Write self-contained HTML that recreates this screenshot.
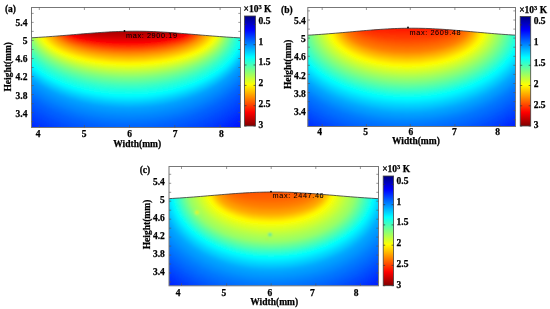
<!DOCTYPE html>
<html><head><meta charset="utf-8"><title>Temperature fields</title>
<style>html,body{margin:0;padding:0;background:#fff;width:550px;height:309px;overflow:hidden}svg{display:block}</style>
</head><body>
<svg width="550" height="309" viewBox="0 0 550 309">
<defs><clipPath id="clipa"><path d="M31.50,127.50 L31.50,37.78 L34.98,37.58 L38.47,37.37 L41.95,37.15 L45.43,36.91 L48.92,36.66 L52.40,36.40 L55.88,36.14 L59.37,35.86 L62.85,35.58 L66.33,35.28 L69.82,34.99 L73.30,34.69 L76.78,34.39 L80.27,34.09 L83.75,33.80 L87.23,33.51 L90.72,33.23 L94.20,32.95 L97.68,32.69 L101.17,32.45 L104.65,32.22 L108.13,32.01 L111.62,31.82 L115.10,31.65 L118.58,31.51 L122.07,31.40 L125.55,31.30 L129.03,31.24 L132.52,31.21 L136.00,31.20 L139.48,31.22 L142.97,31.27 L146.45,31.35 L149.93,31.46 L153.42,31.59 L156.90,31.75 L160.38,31.93 L163.87,32.13 L167.35,32.35 L170.83,32.59 L174.32,32.84 L177.80,33.11 L181.28,33.39 L184.77,33.67 L188.25,33.97 L191.73,34.26 L195.22,34.56 L198.70,34.86 L202.18,35.16 L205.67,35.45 L209.15,35.74 L212.63,36.02 L216.12,36.29 L219.60,36.55 L223.08,36.81 L226.57,37.05 L230.05,37.28 L233.53,37.49 L237.02,37.70 L240.50,37.89 L240.50,127.50 Z"/></clipPath><clipPath id="clipb"><path d="M307.80,126.50 L307.80,35.21 L311.26,35.00 L314.72,34.78 L318.19,34.55 L321.65,34.30 L325.11,34.05 L328.57,33.78 L332.03,33.50 L335.49,33.21 L338.95,32.91 L342.42,32.61 L345.88,32.30 L349.34,31.98 L352.80,31.67 L356.26,31.35 L359.73,31.04 L363.19,30.74 L366.65,30.44 L370.11,30.15 L373.57,29.87 L377.03,29.61 L380.50,29.36 L383.96,29.13 L387.42,28.92 L390.88,28.74 L394.34,28.58 L397.80,28.45 L401.26,28.34 L404.73,28.27 L408.19,28.22 L411.65,28.20 L415.11,28.21 L418.57,28.25 L422.03,28.33 L425.50,28.42 L428.96,28.55 L432.42,28.71 L435.88,28.89 L439.34,29.09 L442.81,29.31 L446.27,29.55 L449.73,29.81 L453.19,30.09 L456.65,30.38 L460.11,30.67 L463.58,30.98 L467.04,31.29 L470.50,31.60 L473.96,31.92 L477.42,32.23 L480.88,32.54 L484.35,32.85 L487.81,33.15 L491.27,33.44 L494.73,33.72 L498.19,33.99 L501.65,34.25 L505.12,34.50 L508.58,34.74 L512.04,34.96 L515.50,35.17 L515.50,126.50 Z"/></clipPath><clipPath id="clipc"><path d="M169.00,285.80 L169.00,198.63 L172.49,198.44 L175.98,198.23 L179.47,198.01 L182.97,197.78 L186.46,197.53 L189.95,197.28 L193.44,197.01 L196.93,196.73 L200.43,196.45 L203.92,196.16 L207.41,195.87 L210.90,195.57 L214.39,195.27 L217.88,194.97 L221.38,194.67 L224.87,194.38 L228.36,194.10 L231.85,193.82 L235.34,193.56 L238.83,193.31 L242.32,193.07 L245.82,192.86 L249.31,192.66 L252.80,192.49 L256.29,192.34 L259.78,192.22 L263.27,192.12 L266.77,192.05 L270.26,192.01 L273.75,192.00 L277.24,192.02 L280.73,192.06 L284.23,192.13 L287.72,192.24 L291.21,192.36 L294.70,192.51 L298.19,192.69 L301.68,192.89 L305.18,193.11 L308.67,193.34 L312.16,193.59 L315.65,193.86 L319.14,194.14 L322.63,194.42 L326.12,194.71 L329.62,195.01 L333.11,195.31 L336.60,195.61 L340.09,195.91 L343.58,196.20 L347.07,196.49 L350.57,196.77 L354.06,197.05 L357.55,197.31 L361.04,197.57 L364.53,197.81 L368.02,198.04 L371.52,198.26 L375.01,198.47 L378.50,198.66 L378.50,285.80 Z"/></clipPath><linearGradient id="jetg" x1="0" y1="0" x2="0" y2="1"><stop offset="0.0000" stop-color="#000080"/><stop offset="0.1250" stop-color="#0000ff"/><stop offset="0.3750" stop-color="#00ffff"/><stop offset="0.6250" stop-color="#ffff00"/><stop offset="0.8750" stop-color="#ff0000"/><stop offset="1.0000" stop-color="#800000"/></linearGradient><filter id="bl" x="-10%" y="-10%" width="120%" height="120%"><feGaussianBlur stdDeviation="1.2"/></filter></defs>
<rect width="550" height="309" fill="#fff"/>
<g clip-path="url(#clipa)"><g filter="url(#bl)"><rect x="26.5" y="2.5" width="219.0" height="130.0" fill="#0000d5"/><ellipse cx="128.5" cy="31.0" rx="213.00" ry="200.00" fill="#0000d5"/><ellipse cx="128.5" cy="31.0" rx="212.11" ry="198.75" fill="#0000d5"/><ellipse cx="128.5" cy="31.0" rx="211.21" ry="197.50" fill="#0000d5"/><ellipse cx="128.5" cy="31.0" rx="210.32" ry="196.25" fill="#0000d5"/><ellipse cx="128.5" cy="31.0" rx="209.43" ry="195.00" fill="#0000d5"/><ellipse cx="128.5" cy="31.0" rx="208.54" ry="193.75" fill="#0000d5"/><ellipse cx="128.5" cy="31.0" rx="207.64" ry="192.50" fill="#0000d5"/><ellipse cx="128.5" cy="31.0" rx="206.75" ry="191.25" fill="#0000d5"/><ellipse cx="128.5" cy="31.0" rx="205.86" ry="190.00" fill="#0000d5"/><ellipse cx="128.5" cy="31.0" rx="204.96" ry="188.75" fill="#0000d5"/><ellipse cx="128.5" cy="31.0" rx="204.07" ry="187.50" fill="#0000d5"/><ellipse cx="128.5" cy="31.0" rx="203.18" ry="186.25" fill="#0000d5"/><ellipse cx="128.5" cy="31.0" rx="202.29" ry="185.00" fill="#0000d5"/><ellipse cx="128.5" cy="31.0" rx="201.39" ry="183.75" fill="#0000d5"/><ellipse cx="128.5" cy="31.0" rx="200.50" ry="182.50" fill="#0000d5"/><ellipse cx="128.5" cy="31.0" rx="199.61" ry="181.25" fill="#0000d5"/><ellipse cx="128.5" cy="31.0" rx="198.71" ry="180.00" fill="#0000d5"/><ellipse cx="128.5" cy="31.0" rx="197.82" ry="178.75" fill="#0000d5"/><ellipse cx="128.5" cy="31.0" rx="196.93" ry="177.50" fill="#0000d5"/><ellipse cx="128.5" cy="31.0" rx="196.04" ry="176.25" fill="#0000d5"/><ellipse cx="128.5" cy="31.0" rx="195.14" ry="175.00" fill="#0000d5"/><ellipse cx="128.5" cy="31.0" rx="194.25" ry="173.75" fill="#0000d5"/><ellipse cx="128.5" cy="31.0" rx="193.36" ry="172.50" fill="#0000d5"/><ellipse cx="128.5" cy="31.0" rx="192.46" ry="171.25" fill="#0000d5"/><ellipse cx="128.5" cy="31.0" rx="191.57" ry="170.00" fill="#0000d5"/><ellipse cx="128.5" cy="31.0" rx="190.68" ry="168.75" fill="#0000d7"/><ellipse cx="128.5" cy="31.0" rx="189.79" ry="167.50" fill="#0000d9"/><ellipse cx="128.5" cy="31.0" rx="188.89" ry="166.25" fill="#0000db"/><ellipse cx="128.5" cy="31.0" rx="188.00" ry="165.00" fill="#0000dd"/><ellipse cx="128.5" cy="31.0" rx="187.11" ry="163.75" fill="#0000e0"/><ellipse cx="128.5" cy="31.0" rx="186.21" ry="162.50" fill="#0000e2"/><ellipse cx="128.5" cy="31.0" rx="185.32" ry="161.25" fill="#0000e4"/><ellipse cx="128.5" cy="31.0" rx="184.43" ry="160.00" fill="#0000e6"/><ellipse cx="128.5" cy="31.0" rx="183.54" ry="158.75" fill="#0000e8"/><ellipse cx="128.5" cy="31.0" rx="182.64" ry="157.50" fill="#0000ea"/><ellipse cx="128.5" cy="31.0" rx="181.75" ry="156.25" fill="#0000ec"/><ellipse cx="128.5" cy="31.0" rx="180.86" ry="155.00" fill="#0000ee"/><ellipse cx="128.5" cy="31.0" rx="179.96" ry="153.75" fill="#0000f0"/><ellipse cx="128.5" cy="31.0" rx="179.07" ry="152.50" fill="#0000f2"/><ellipse cx="128.5" cy="31.0" rx="178.18" ry="151.25" fill="#0000f4"/><ellipse cx="128.5" cy="31.0" rx="177.29" ry="150.00" fill="#0000f7"/><ellipse cx="128.5" cy="31.0" rx="176.39" ry="148.75" fill="#0000f9"/><ellipse cx="128.5" cy="31.0" rx="175.50" ry="147.50" fill="#0000fb"/><ellipse cx="128.5" cy="31.0" rx="174.61" ry="146.25" fill="#0000fd"/><ellipse cx="128.5" cy="31.0" rx="173.71" ry="145.00" fill="#0000ff"/><ellipse cx="128.5" cy="31.0" rx="172.82" ry="143.75" fill="#0002ff"/><ellipse cx="128.5" cy="31.0" rx="171.93" ry="142.50" fill="#0004ff"/><ellipse cx="128.5" cy="31.0" rx="171.04" ry="141.25" fill="#0006ff"/><ellipse cx="128.5" cy="31.0" rx="170.14" ry="140.00" fill="#0008ff"/><ellipse cx="128.5" cy="31.0" rx="169.25" ry="138.75" fill="#000aff"/><ellipse cx="128.5" cy="31.0" rx="168.36" ry="137.50" fill="#000cff"/><ellipse cx="128.5" cy="31.0" rx="167.46" ry="136.25" fill="#000fff"/><ellipse cx="128.5" cy="31.0" rx="166.57" ry="135.00" fill="#0011ff"/><ellipse cx="128.5" cy="31.0" rx="165.68" ry="133.75" fill="#0013ff"/><ellipse cx="128.5" cy="31.0" rx="164.79" ry="132.50" fill="#0015ff"/><ellipse cx="128.5" cy="31.0" rx="163.89" ry="131.25" fill="#0017ff"/><ellipse cx="128.5" cy="31.0" rx="163.00" ry="130.00" fill="#0019ff"/><ellipse cx="128.5" cy="31.0" rx="162.08" ry="128.75" fill="#001bff"/><ellipse cx="128.5" cy="31.0" rx="161.16" ry="127.50" fill="#001dff"/><ellipse cx="128.5" cy="31.0" rx="160.24" ry="126.25" fill="#001fff"/><ellipse cx="128.5" cy="31.0" rx="159.32" ry="125.00" fill="#0021ff"/><ellipse cx="128.5" cy="31.0" rx="158.40" ry="123.75" fill="#0024ff"/><ellipse cx="128.5" cy="31.0" rx="157.49" ry="122.50" fill="#0027ff"/><ellipse cx="128.5" cy="31.0" rx="156.57" ry="121.25" fill="#002aff"/><ellipse cx="128.5" cy="31.0" rx="155.65" ry="120.00" fill="#002dff"/><ellipse cx="128.5" cy="31.0" rx="154.73" ry="118.75" fill="#0030ff"/><ellipse cx="128.5" cy="31.0" rx="153.81" ry="117.50" fill="#0033ff"/><ellipse cx="128.5" cy="31.0" rx="152.89" ry="116.25" fill="#0036ff"/><ellipse cx="128.5" cy="31.0" rx="151.97" ry="115.00" fill="#0039ff"/><ellipse cx="128.5" cy="31.0" rx="151.05" ry="113.75" fill="#003cff"/><ellipse cx="128.5" cy="31.0" rx="150.13" ry="112.50" fill="#003fff"/><ellipse cx="128.5" cy="31.0" rx="149.21" ry="111.25" fill="#0042ff"/><ellipse cx="128.5" cy="31.0" rx="148.29" ry="110.00" fill="#0044ff"/><ellipse cx="128.5" cy="31.0" rx="147.38" ry="108.75" fill="#0047ff"/><ellipse cx="128.5" cy="31.0" rx="146.46" ry="107.50" fill="#004aff"/><ellipse cx="128.5" cy="31.0" rx="145.54" ry="106.25" fill="#004dff"/><ellipse cx="128.5" cy="31.0" rx="144.62" ry="105.00" fill="#0050ff"/><ellipse cx="128.5" cy="31.0" rx="143.70" ry="103.75" fill="#0053ff"/><ellipse cx="128.5" cy="31.0" rx="142.78" ry="102.50" fill="#0056ff"/><ellipse cx="128.5" cy="31.0" rx="141.86" ry="101.25" fill="#0059ff"/><ellipse cx="128.5" cy="31.0" rx="140.94" ry="100.00" fill="#005cff"/><ellipse cx="128.5" cy="31.0" rx="140.02" ry="98.75" fill="#005fff"/><ellipse cx="128.5" cy="31.0" rx="139.10" ry="97.50" fill="#0062ff"/><ellipse cx="128.5" cy="31.0" rx="138.18" ry="96.25" fill="#0065ff"/><ellipse cx="128.5" cy="31.0" rx="137.26" ry="95.00" fill="#0069ff"/><ellipse cx="128.5" cy="31.0" rx="136.33" ry="93.75" fill="#006dff"/><ellipse cx="128.5" cy="31.0" rx="135.40" ry="92.50" fill="#0071ff"/><ellipse cx="128.5" cy="31.0" rx="134.48" ry="91.25" fill="#0075ff"/><ellipse cx="128.5" cy="31.0" rx="133.55" ry="90.00" fill="#0079ff"/><ellipse cx="128.5" cy="31.0" rx="132.62" ry="88.75" fill="#007eff"/><ellipse cx="128.5" cy="31.0" rx="131.69" ry="87.50" fill="#0082ff"/><ellipse cx="128.5" cy="31.0" rx="130.77" ry="86.25" fill="#0086ff"/><ellipse cx="128.5" cy="31.0" rx="129.84" ry="85.00" fill="#008aff"/><ellipse cx="128.5" cy="31.0" rx="128.91" ry="83.75" fill="#008eff"/><ellipse cx="128.5" cy="31.0" rx="127.98" ry="82.50" fill="#0092ff"/><ellipse cx="128.5" cy="31.0" rx="127.06" ry="81.25" fill="#0097ff"/><ellipse cx="128.5" cy="31.0" rx="126.13" ry="80.00" fill="#009bff"/><ellipse cx="128.5" cy="31.0" rx="125.20" ry="78.75" fill="#009fff"/><ellipse cx="128.5" cy="31.0" rx="124.27" ry="77.50" fill="#00a5ff"/><ellipse cx="128.5" cy="31.0" rx="123.35" ry="76.25" fill="#00aeff"/><ellipse cx="128.5" cy="31.0" rx="122.42" ry="75.00" fill="#00b7ff"/><ellipse cx="128.5" cy="31.0" rx="121.49" ry="73.75" fill="#00c0ff"/><ellipse cx="128.5" cy="31.0" rx="120.56" ry="72.50" fill="#00c9ff"/><ellipse cx="128.5" cy="31.0" rx="119.64" ry="71.25" fill="#00d2ff"/><ellipse cx="128.5" cy="31.0" rx="118.71" ry="70.00" fill="#00dbff"/><ellipse cx="128.5" cy="31.0" rx="117.78" ry="68.75" fill="#00e5ff"/><ellipse cx="128.5" cy="31.0" rx="116.85" ry="67.50" fill="#00eeff"/><ellipse cx="128.5" cy="31.0" rx="115.93" ry="66.25" fill="#00f7ff"/><ellipse cx="128.5" cy="31.0" rx="115.00" ry="65.00" fill="#01fffe"/><ellipse cx="128.5" cy="31.0" rx="113.97" ry="63.75" fill="#09fff6"/><ellipse cx="128.5" cy="31.0" rx="112.93" ry="62.50" fill="#11ffee"/><ellipse cx="128.5" cy="31.0" rx="111.90" ry="61.25" fill="#19ffe6"/><ellipse cx="128.5" cy="31.0" rx="110.86" ry="60.00" fill="#20ffdf"/><ellipse cx="128.5" cy="31.0" rx="109.83" ry="58.75" fill="#28ffd7"/><ellipse cx="128.5" cy="31.0" rx="108.79" ry="57.50" fill="#30ffcf"/><ellipse cx="128.5" cy="31.0" rx="107.76" ry="56.25" fill="#38ffc7"/><ellipse cx="128.5" cy="31.0" rx="106.72" ry="55.00" fill="#41ffbe"/><ellipse cx="128.5" cy="31.0" rx="105.69" ry="53.75" fill="#4bffb4"/><ellipse cx="128.5" cy="31.0" rx="104.66" ry="52.50" fill="#55ffaa"/><ellipse cx="128.5" cy="31.0" rx="103.62" ry="51.25" fill="#5fffa0"/><ellipse cx="128.5" cy="31.0" rx="102.59" ry="50.00" fill="#69ff96"/><ellipse cx="128.5" cy="31.0" rx="101.55" ry="48.75" fill="#73ff8c"/><ellipse cx="128.5" cy="31.0" rx="100.52" ry="47.50" fill="#7dff82"/><ellipse cx="128.5" cy="31.0" rx="99.48" ry="46.25" fill="#88ff77"/><ellipse cx="128.5" cy="31.0" rx="98.45" ry="45.00" fill="#94ff6b"/><ellipse cx="128.5" cy="31.0" rx="97.41" ry="43.75" fill="#a0ff5f"/><ellipse cx="128.5" cy="31.0" rx="96.38" ry="42.50" fill="#adff52"/><ellipse cx="128.5" cy="31.0" rx="95.34" ry="41.25" fill="#b9ff46"/><ellipse cx="128.5" cy="31.0" rx="94.31" ry="40.00" fill="#c5ff3a"/><ellipse cx="128.5" cy="31.0" rx="93.28" ry="38.75" fill="#d1ff2e"/><ellipse cx="128.5" cy="31.0" rx="92.24" ry="37.50" fill="#ddff22"/><ellipse cx="128.5" cy="31.0" rx="91.21" ry="36.25" fill="#e9ff16"/><ellipse cx="128.5" cy="31.0" rx="89.77" ry="35.00" fill="#f5ff0a"/><ellipse cx="128.5" cy="31.0" rx="88.24" ry="33.75" fill="#fffc00"/><ellipse cx="128.5" cy="31.0" rx="86.70" ry="32.50" fill="#ffee00"/><ellipse cx="128.5" cy="31.0" rx="85.17" ry="31.25" fill="#ffe100"/><ellipse cx="128.5" cy="31.0" rx="83.64" ry="30.00" fill="#ffd300"/><ellipse cx="128.5" cy="31.0" rx="82.10" ry="28.75" fill="#ffc500"/><ellipse cx="128.5" cy="31.0" rx="80.57" ry="27.50" fill="#ffb800"/><ellipse cx="128.5" cy="31.0" rx="79.03" ry="26.25" fill="#ffaa00"/><ellipse cx="128.5" cy="31.0" rx="77.50" ry="25.00" fill="#ff9c00"/><ellipse cx="128.5" cy="31.0" rx="75.97" ry="23.75" fill="#ff8e00"/><ellipse cx="128.5" cy="31.0" rx="74.43" ry="22.50" fill="#ff8100"/><ellipse cx="128.5" cy="31.0" rx="72.90" ry="21.25" fill="#ff7000"/><ellipse cx="128.5" cy="31.0" rx="71.36" ry="20.00" fill="#ff6000"/><ellipse cx="128.5" cy="31.0" rx="69.83" ry="18.75" fill="#ff5000"/><ellipse cx="128.5" cy="31.0" rx="68.30" ry="17.50" fill="#ff3f00"/><ellipse cx="128.5" cy="31.0" rx="66.76" ry="16.25" fill="#ff2f00"/><ellipse cx="128.5" cy="31.0" rx="65.23" ry="15.00" fill="#ff1f00"/><ellipse cx="128.5" cy="31.0" rx="63.68" ry="13.75" fill="#ff0e00"/><ellipse cx="128.5" cy="31.0" rx="62.07" ry="12.50" fill="#fe0000"/><ellipse cx="128.5" cy="31.0" rx="60.46" ry="11.25" fill="#f30000"/><ellipse cx="128.5" cy="31.0" rx="58.86" ry="10.00" fill="#e70000"/><ellipse cx="128.5" cy="31.0" rx="57.25" ry="8.75" fill="#dc0000"/><ellipse cx="128.5" cy="31.0" rx="55.64" ry="7.50" fill="#d10000"/><ellipse cx="128.5" cy="31.0" rx="54.04" ry="6.25" fill="#c60000"/><ellipse cx="128.5" cy="31.0" rx="52.43" ry="5.00" fill="#be0000"/><ellipse cx="128.5" cy="31.0" rx="50.82" ry="3.75" fill="#b80000"/><ellipse cx="128.5" cy="31.0" rx="49.21" ry="2.50" fill="#b20000"/><ellipse cx="128.5" cy="31.0" rx="47.61" ry="1.25" fill="#ab0000"/></g></g>
<path d="M31.50,37.78 L34.98,37.58 L38.47,37.37 L41.95,37.15 L45.43,36.91 L48.92,36.66 L52.40,36.40 L55.88,36.14 L59.37,35.86 L62.85,35.58 L66.33,35.28 L69.82,34.99 L73.30,34.69 L76.78,34.39 L80.27,34.09 L83.75,33.80 L87.23,33.51 L90.72,33.23 L94.20,32.95 L97.68,32.69 L101.17,32.45 L104.65,32.22 L108.13,32.01 L111.62,31.82 L115.10,31.65 L118.58,31.51 L122.07,31.40 L125.55,31.30 L129.03,31.24 L132.52,31.21 L136.00,31.20 L139.48,31.22 L142.97,31.27 L146.45,31.35 L149.93,31.46 L153.42,31.59 L156.90,31.75 L160.38,31.93 L163.87,32.13 L167.35,32.35 L170.83,32.59 L174.32,32.84 L177.80,33.11 L181.28,33.39 L184.77,33.67 L188.25,33.97 L191.73,34.26 L195.22,34.56 L198.70,34.86 L202.18,35.16 L205.67,35.45 L209.15,35.74 L212.63,36.02 L216.12,36.29 L219.60,36.55 L223.08,36.81 L226.57,37.05 L230.05,37.28 L233.53,37.49 L237.02,37.70 L240.50,37.89" fill="none" stroke="#333" stroke-width="0.8"/>
<rect x="31.5" y="7.5" width="209.0" height="120.0" fill="none" stroke="#777" stroke-width="1"/>
<path d="M39.3,127.5v-2.5M39.3,7.5v2.5M84.4,127.5v-2.5M84.4,7.5v2.5M129.5,127.5v-2.5M129.5,7.5v2.5M174.8,127.5v-2.5M174.8,7.5v2.5M220.1,127.5v-2.5M220.1,7.5v2.5M31.5,13.4h2.2M240.5,13.4h-2.2M31.5,22.4h2.2M240.5,22.4h-2.2M31.5,31.4h2.2M240.5,31.4h-2.2M31.5,40.5h2.2M240.5,40.5h-2.2M31.5,49.5h2.2M240.5,49.5h-2.2M31.5,58.5h2.2M240.5,58.5h-2.2M31.5,67.5h2.2M240.5,67.5h-2.2M31.5,76.6h2.2M240.5,76.6h-2.2M31.5,85.6h2.2M240.5,85.6h-2.2M31.5,94.6h2.2M240.5,94.6h-2.2M31.5,103.7h2.2M240.5,103.7h-2.2M31.5,112.7h2.2M240.5,112.7h-2.2M31.5,121.7h2.2M240.5,121.7h-2.2" stroke="#555" stroke-width="0.6" fill="none"/>
<text x="27.4" y="26.2" text-anchor="end" style="font-family:'Liberation Serif',serif;font-weight:bold;font-size:9.5px;stroke:#000;stroke-width:0.25px">5.4</text>
<text x="27.4" y="44.3" text-anchor="end" style="font-family:'Liberation Serif',serif;font-weight:bold;font-size:9.5px;stroke:#000;stroke-width:0.25px">5</text>
<text x="27.4" y="62.4" text-anchor="end" style="font-family:'Liberation Serif',serif;font-weight:bold;font-size:9.5px;stroke:#000;stroke-width:0.25px">4.6</text>
<text x="27.4" y="80.4" text-anchor="end" style="font-family:'Liberation Serif',serif;font-weight:bold;font-size:9.5px;stroke:#000;stroke-width:0.25px">4.2</text>
<text x="27.4" y="98.5" text-anchor="end" style="font-family:'Liberation Serif',serif;font-weight:bold;font-size:9.5px;stroke:#000;stroke-width:0.25px">3.8</text>
<text x="27.4" y="116.5" text-anchor="end" style="font-family:'Liberation Serif',serif;font-weight:bold;font-size:9.5px;stroke:#000;stroke-width:0.25px">3.4</text>
<text x="38.2" y="137.3" text-anchor="middle" style="font-family:'Liberation Serif',serif;font-weight:bold;font-size:9.5px;stroke:#000;stroke-width:0.25px">4</text>
<text x="84.1" y="137.3" text-anchor="middle" style="font-family:'Liberation Serif',serif;font-weight:bold;font-size:9.5px;stroke:#000;stroke-width:0.25px">5</text>
<text x="129.7" y="137.3" text-anchor="middle" style="font-family:'Liberation Serif',serif;font-weight:bold;font-size:9.5px;stroke:#000;stroke-width:0.25px">6</text>
<text x="175.2" y="137.3" text-anchor="middle" style="font-family:'Liberation Serif',serif;font-weight:bold;font-size:9.5px;stroke:#000;stroke-width:0.25px">7</text>
<text x="221.4" y="137.3" text-anchor="middle" style="font-family:'Liberation Serif',serif;font-weight:bold;font-size:9.5px;stroke:#000;stroke-width:0.25px">8</text>
<text x="137.2" y="146.5" text-anchor="middle" style="font-family:'Liberation Serif',serif;font-weight:bold;font-size:9.5px;stroke:#000;stroke-width:0.25px">Width(mm)</text>
<text transform="translate(8.1,66.8) rotate(-90)" text-anchor="middle" y="3.2" style="font-family:'Liberation Serif',serif;font-weight:bold;font-size:9.5px;stroke:#000;stroke-width:0.25px">Height(mm)</text>
<text x="4.9" y="12.0" style="font-family:'Liberation Serif',serif;font-weight:bold;font-size:9.5px;stroke:#000;stroke-width:0.25px">(a)</text>
<rect x="244.5" y="16.0" width="11.0" height="110.0" fill="url(#jetg)" stroke="#444" stroke-width="0.8"/>
<text x="258.5" y="23.6" style="font-family:'Liberation Serif',serif;font-weight:bold;font-size:9.5px;stroke:#000;stroke-width:0.25px">0.5</text>
<text x="258.5" y="44.5" style="font-family:'Liberation Serif',serif;font-weight:bold;font-size:9.5px;stroke:#000;stroke-width:0.25px">1</text>
<text x="258.5" y="65.3" style="font-family:'Liberation Serif',serif;font-weight:bold;font-size:9.5px;stroke:#000;stroke-width:0.25px">1.5</text>
<text x="258.5" y="86.2" style="font-family:'Liberation Serif',serif;font-weight:bold;font-size:9.5px;stroke:#000;stroke-width:0.25px">2</text>
<text x="258.5" y="107.0" style="font-family:'Liberation Serif',serif;font-weight:bold;font-size:9.5px;stroke:#000;stroke-width:0.25px">2.5</text>
<text x="258.5" y="127.9" style="font-family:'Liberation Serif',serif;font-weight:bold;font-size:9.5px;stroke:#000;stroke-width:0.25px">3</text>
<path d="M244.5,24.4h2M255.5,24.4h-2M244.5,44.7h2M255.5,44.7h-2M244.5,65.0h2M255.5,65.0h-2M244.5,85.4h2M255.5,85.4h-2M244.5,105.7h2M255.5,105.7h-2M244.5,126.0h2M255.5,126.0h-2" stroke="#333" stroke-width="0.7" fill="none"/>
<text x="243.5" y="12.0" style="font-family:'Liberation Serif',serif;font-weight:bold;font-size:9.5px;stroke:#000;stroke-width:0.25px">×10<tspan dy="-3" style="font-size:6.5px">3</tspan><tspan dy="3"> K</tspan></text>
<circle cx="124.5" cy="31.0" r="0.9" fill="#000"/>
<text x="126.0" y="37.9" style="font-family:'Liberation Sans',sans-serif;font-size:7.3px;letter-spacing:0.62px;fill:#000;stroke:#000;stroke-width:0.05px">max: 2900.19</text>
<g clip-path="url(#clipb)"><g filter="url(#bl)"><rect x="302.8" y="2.5" width="217.7" height="129.0" fill="#0000e0"/><ellipse cx="407.0" cy="28.0" rx="216.00" ry="200.00" fill="#0000e0"/><ellipse cx="407.0" cy="28.0" rx="215.11" ry="198.75" fill="#0000e0"/><ellipse cx="407.0" cy="28.0" rx="214.21" ry="197.50" fill="#0000e0"/><ellipse cx="407.0" cy="28.0" rx="213.32" ry="196.25" fill="#0000e0"/><ellipse cx="407.0" cy="28.0" rx="212.43" ry="195.00" fill="#0000e0"/><ellipse cx="407.0" cy="28.0" rx="211.54" ry="193.75" fill="#0000e0"/><ellipse cx="407.0" cy="28.0" rx="210.64" ry="192.50" fill="#0000e0"/><ellipse cx="407.0" cy="28.0" rx="209.75" ry="191.25" fill="#0000e0"/><ellipse cx="407.0" cy="28.0" rx="208.86" ry="190.00" fill="#0000e0"/><ellipse cx="407.0" cy="28.0" rx="207.96" ry="188.75" fill="#0000e0"/><ellipse cx="407.0" cy="28.0" rx="207.07" ry="187.50" fill="#0000e0"/><ellipse cx="407.0" cy="28.0" rx="206.18" ry="186.25" fill="#0000e0"/><ellipse cx="407.0" cy="28.0" rx="205.29" ry="185.00" fill="#0000e0"/><ellipse cx="407.0" cy="28.0" rx="204.39" ry="183.75" fill="#0000e0"/><ellipse cx="407.0" cy="28.0" rx="203.50" ry="182.50" fill="#0000e0"/><ellipse cx="407.0" cy="28.0" rx="202.61" ry="181.25" fill="#0000e0"/><ellipse cx="407.0" cy="28.0" rx="201.71" ry="180.00" fill="#0000e0"/><ellipse cx="407.0" cy="28.0" rx="200.82" ry="178.75" fill="#0000e0"/><ellipse cx="407.0" cy="28.0" rx="199.93" ry="177.50" fill="#0000e0"/><ellipse cx="407.0" cy="28.0" rx="199.04" ry="176.25" fill="#0000e0"/><ellipse cx="407.0" cy="28.0" rx="198.14" ry="175.00" fill="#0000e0"/><ellipse cx="407.0" cy="28.0" rx="197.25" ry="173.75" fill="#0000e0"/><ellipse cx="407.0" cy="28.0" rx="196.36" ry="172.50" fill="#0000e0"/><ellipse cx="407.0" cy="28.0" rx="195.46" ry="171.25" fill="#0000e0"/><ellipse cx="407.0" cy="28.0" rx="194.57" ry="170.00" fill="#0000e0"/><ellipse cx="407.0" cy="28.0" rx="193.68" ry="168.75" fill="#0000e2"/><ellipse cx="407.0" cy="28.0" rx="192.79" ry="167.50" fill="#0000e5"/><ellipse cx="407.0" cy="28.0" rx="191.89" ry="166.25" fill="#0000e7"/><ellipse cx="407.0" cy="28.0" rx="191.00" ry="165.00" fill="#0000e9"/><ellipse cx="407.0" cy="28.0" rx="190.11" ry="163.75" fill="#0000eb"/><ellipse cx="407.0" cy="28.0" rx="189.21" ry="162.50" fill="#0000ed"/><ellipse cx="407.0" cy="28.0" rx="188.32" ry="161.25" fill="#0000ef"/><ellipse cx="407.0" cy="28.0" rx="187.43" ry="160.00" fill="#0000f1"/><ellipse cx="407.0" cy="28.0" rx="186.54" ry="158.75" fill="#0000f3"/><ellipse cx="407.0" cy="28.0" rx="185.64" ry="157.50" fill="#0000f5"/><ellipse cx="407.0" cy="28.0" rx="184.75" ry="156.25" fill="#0000f7"/><ellipse cx="407.0" cy="28.0" rx="183.86" ry="155.00" fill="#0000f9"/><ellipse cx="407.0" cy="28.0" rx="182.96" ry="153.75" fill="#0000fc"/><ellipse cx="407.0" cy="28.0" rx="182.07" ry="152.50" fill="#0000fe"/><ellipse cx="407.0" cy="28.0" rx="181.18" ry="151.25" fill="#0001ff"/><ellipse cx="407.0" cy="28.0" rx="180.29" ry="150.00" fill="#0003ff"/><ellipse cx="407.0" cy="28.0" rx="179.39" ry="148.75" fill="#0005ff"/><ellipse cx="407.0" cy="28.0" rx="178.50" ry="147.50" fill="#0007ff"/><ellipse cx="407.0" cy="28.0" rx="177.61" ry="146.25" fill="#0009ff"/><ellipse cx="407.0" cy="28.0" rx="176.71" ry="145.00" fill="#000bff"/><ellipse cx="407.0" cy="28.0" rx="175.82" ry="143.75" fill="#000dff"/><ellipse cx="407.0" cy="28.0" rx="174.93" ry="142.50" fill="#000fff"/><ellipse cx="407.0" cy="28.0" rx="174.04" ry="141.25" fill="#0011ff"/><ellipse cx="407.0" cy="28.0" rx="173.14" ry="140.00" fill="#0014ff"/><ellipse cx="407.0" cy="28.0" rx="172.25" ry="138.75" fill="#0016ff"/><ellipse cx="407.0" cy="28.0" rx="171.36" ry="137.50" fill="#0018ff"/><ellipse cx="407.0" cy="28.0" rx="170.46" ry="136.25" fill="#001aff"/><ellipse cx="407.0" cy="28.0" rx="169.57" ry="135.00" fill="#001cff"/><ellipse cx="407.0" cy="28.0" rx="168.68" ry="133.75" fill="#001eff"/><ellipse cx="407.0" cy="28.0" rx="167.79" ry="132.50" fill="#0020ff"/><ellipse cx="407.0" cy="28.0" rx="166.89" ry="131.25" fill="#0022ff"/><ellipse cx="407.0" cy="28.0" rx="166.00" ry="130.00" fill="#0024ff"/><ellipse cx="407.0" cy="28.0" rx="164.99" ry="128.75" fill="#0026ff"/><ellipse cx="407.0" cy="28.0" rx="163.98" ry="127.50" fill="#0029ff"/><ellipse cx="407.0" cy="28.0" rx="162.98" ry="126.25" fill="#002bff"/><ellipse cx="407.0" cy="28.0" rx="161.97" ry="125.00" fill="#002dff"/><ellipse cx="407.0" cy="28.0" rx="160.96" ry="123.75" fill="#0030ff"/><ellipse cx="407.0" cy="28.0" rx="159.95" ry="122.50" fill="#0033ff"/><ellipse cx="407.0" cy="28.0" rx="158.94" ry="121.25" fill="#0037ff"/><ellipse cx="407.0" cy="28.0" rx="157.94" ry="120.00" fill="#003aff"/><ellipse cx="407.0" cy="28.0" rx="156.93" ry="118.75" fill="#003eff"/><ellipse cx="407.0" cy="28.0" rx="155.92" ry="117.50" fill="#0041ff"/><ellipse cx="407.0" cy="28.0" rx="154.91" ry="116.25" fill="#0044ff"/><ellipse cx="407.0" cy="28.0" rx="153.90" ry="115.00" fill="#0048ff"/><ellipse cx="407.0" cy="28.0" rx="152.90" ry="113.75" fill="#004bff"/><ellipse cx="407.0" cy="28.0" rx="151.89" ry="112.50" fill="#004eff"/><ellipse cx="407.0" cy="28.0" rx="150.88" ry="111.25" fill="#0052ff"/><ellipse cx="407.0" cy="28.0" rx="149.87" ry="110.00" fill="#0055ff"/><ellipse cx="407.0" cy="28.0" rx="148.86" ry="108.75" fill="#0058ff"/><ellipse cx="407.0" cy="28.0" rx="147.85" ry="107.50" fill="#005cff"/><ellipse cx="407.0" cy="28.0" rx="146.85" ry="106.25" fill="#005fff"/><ellipse cx="407.0" cy="28.0" rx="145.84" ry="105.00" fill="#0063ff"/><ellipse cx="407.0" cy="28.0" rx="144.83" ry="103.75" fill="#0066ff"/><ellipse cx="407.0" cy="28.0" rx="143.82" ry="102.50" fill="#0069ff"/><ellipse cx="407.0" cy="28.0" rx="142.81" ry="101.25" fill="#006dff"/><ellipse cx="407.0" cy="28.0" rx="141.81" ry="100.00" fill="#0070ff"/><ellipse cx="407.0" cy="28.0" rx="140.77" ry="98.75" fill="#0073ff"/><ellipse cx="407.0" cy="28.0" rx="139.60" ry="97.50" fill="#0077ff"/><ellipse cx="407.0" cy="28.0" rx="138.43" ry="96.25" fill="#007bff"/><ellipse cx="407.0" cy="28.0" rx="137.26" ry="95.00" fill="#0080ff"/><ellipse cx="407.0" cy="28.0" rx="136.09" ry="93.75" fill="#0085ff"/><ellipse cx="407.0" cy="28.0" rx="134.92" ry="92.50" fill="#008aff"/><ellipse cx="407.0" cy="28.0" rx="133.75" ry="91.25" fill="#0090ff"/><ellipse cx="407.0" cy="28.0" rx="132.58" ry="90.00" fill="#0095ff"/><ellipse cx="407.0" cy="28.0" rx="131.41" ry="88.75" fill="#009aff"/><ellipse cx="407.0" cy="28.0" rx="130.24" ry="87.50" fill="#009fff"/><ellipse cx="407.0" cy="28.0" rx="129.07" ry="86.25" fill="#00a4ff"/><ellipse cx="407.0" cy="28.0" rx="127.90" ry="85.00" fill="#00a9ff"/><ellipse cx="407.0" cy="28.0" rx="126.73" ry="83.75" fill="#00b1ff"/><ellipse cx="407.0" cy="28.0" rx="125.56" ry="82.50" fill="#00b8ff"/><ellipse cx="407.0" cy="28.0" rx="124.40" ry="81.25" fill="#00c0ff"/><ellipse cx="407.0" cy="28.0" rx="123.23" ry="80.00" fill="#00c7ff"/><ellipse cx="407.0" cy="28.0" rx="122.06" ry="78.75" fill="#00cfff"/><ellipse cx="407.0" cy="28.0" rx="120.89" ry="77.50" fill="#00d6ff"/><ellipse cx="407.0" cy="28.0" rx="119.72" ry="76.25" fill="#00deff"/><ellipse cx="407.0" cy="28.0" rx="118.55" ry="75.00" fill="#00e5ff"/><ellipse cx="407.0" cy="28.0" rx="117.38" ry="73.75" fill="#00edff"/><ellipse cx="407.0" cy="28.0" rx="116.21" ry="72.50" fill="#00f4ff"/><ellipse cx="407.0" cy="28.0" rx="115.04" ry="71.25" fill="#00fcff"/><ellipse cx="407.0" cy="28.0" rx="113.87" ry="70.00" fill="#05fffa"/><ellipse cx="407.0" cy="28.0" rx="112.70" ry="68.75" fill="#0ffff0"/><ellipse cx="407.0" cy="28.0" rx="111.42" ry="67.50" fill="#19ffe6"/><ellipse cx="407.0" cy="28.0" rx="109.98" ry="66.25" fill="#23ffdc"/><ellipse cx="407.0" cy="28.0" rx="108.55" ry="65.00" fill="#2dffd2"/><ellipse cx="407.0" cy="28.0" rx="107.11" ry="63.75" fill="#37ffc8"/><ellipse cx="407.0" cy="28.0" rx="105.67" ry="62.50" fill="#41ffbe"/><ellipse cx="407.0" cy="28.0" rx="104.23" ry="61.25" fill="#4bffb4"/><ellipse cx="407.0" cy="28.0" rx="102.79" ry="60.00" fill="#55ffaa"/><ellipse cx="407.0" cy="28.0" rx="101.35" ry="58.75" fill="#5fffa0"/><ellipse cx="407.0" cy="28.0" rx="99.91" ry="57.50" fill="#69ff96"/><ellipse cx="407.0" cy="28.0" rx="98.47" ry="56.25" fill="#73ff8c"/><ellipse cx="407.0" cy="28.0" rx="97.03" ry="55.00" fill="#7dff82"/><ellipse cx="407.0" cy="28.0" rx="95.59" ry="53.75" fill="#87ff78"/><ellipse cx="407.0" cy="28.0" rx="94.15" ry="52.50" fill="#91ff6e"/><ellipse cx="407.0" cy="28.0" rx="92.71" ry="51.25" fill="#9aff65"/><ellipse cx="407.0" cy="28.0" rx="91.27" ry="50.00" fill="#a4ff5b"/><ellipse cx="407.0" cy="28.0" rx="89.83" ry="48.75" fill="#aeff51"/><ellipse cx="407.0" cy="28.0" rx="88.39" ry="47.50" fill="#b8ff47"/><ellipse cx="407.0" cy="28.0" rx="86.95" ry="46.25" fill="#c2ff3d"/><ellipse cx="407.0" cy="28.0" rx="85.52" ry="45.00" fill="#cbff34"/><ellipse cx="407.0" cy="28.0" rx="84.08" ry="43.75" fill="#d5ff2a"/><ellipse cx="407.0" cy="28.0" rx="82.64" ry="42.50" fill="#dfff20"/><ellipse cx="407.0" cy="28.0" rx="81.20" ry="41.25" fill="#e9ff16"/><ellipse cx="407.0" cy="28.0" rx="79.76" ry="40.00" fill="#f3ff0c"/><ellipse cx="407.0" cy="28.0" rx="78.32" ry="38.75" fill="#fcff03"/><ellipse cx="407.0" cy="28.0" rx="76.88" ry="37.50" fill="#fff700"/><ellipse cx="407.0" cy="28.0" rx="75.44" ry="36.25" fill="#ffec00"/><ellipse cx="407.0" cy="28.0" rx="74.00" ry="35.00" fill="#ffe000"/><ellipse cx="407.0" cy="28.0" rx="72.69" ry="33.75" fill="#ffd500"/><ellipse cx="407.0" cy="28.0" rx="71.38" ry="32.50" fill="#ffca00"/><ellipse cx="407.0" cy="28.0" rx="70.07" ry="31.25" fill="#ffbe00"/><ellipse cx="407.0" cy="28.0" rx="68.76" ry="30.00" fill="#ffb300"/><ellipse cx="407.0" cy="28.0" rx="67.45" ry="28.75" fill="#ffa800"/><ellipse cx="407.0" cy="28.0" rx="66.14" ry="27.50" fill="#ff9d00"/><ellipse cx="407.0" cy="28.0" rx="64.83" ry="26.25" fill="#ff9100"/><ellipse cx="407.0" cy="28.0" rx="63.52" ry="25.00" fill="#ff8600"/><ellipse cx="407.0" cy="28.0" rx="62.21" ry="23.75" fill="#ff7d00"/><ellipse cx="407.0" cy="28.0" rx="60.90" ry="22.50" fill="#ff7700"/><ellipse cx="407.0" cy="28.0" rx="59.60" ry="21.25" fill="#ff7100"/><ellipse cx="407.0" cy="28.0" rx="58.29" ry="20.00" fill="#ff6a00"/><ellipse cx="407.0" cy="28.0" rx="56.98" ry="18.75" fill="#ff6400"/><ellipse cx="407.0" cy="28.0" rx="55.67" ry="17.50" fill="#ff5e00"/><ellipse cx="407.0" cy="28.0" rx="54.36" ry="16.25" fill="#ff5700"/><ellipse cx="407.0" cy="28.0" rx="53.05" ry="15.00" fill="#ff5100"/><ellipse cx="407.0" cy="28.0" rx="51.73" ry="13.75" fill="#ff4b00"/><ellipse cx="407.0" cy="28.0" rx="50.39" ry="12.50" fill="#ff4400"/><ellipse cx="407.0" cy="28.0" rx="49.05" ry="11.25" fill="#ff3e00"/><ellipse cx="407.0" cy="28.0" rx="47.71" ry="10.00" fill="#ff3900"/><ellipse cx="407.0" cy="28.0" rx="46.38" ry="8.75" fill="#ff3400"/><ellipse cx="407.0" cy="28.0" rx="45.04" ry="7.50" fill="#ff3000"/><ellipse cx="407.0" cy="28.0" rx="43.70" ry="6.25" fill="#ff2b00"/><ellipse cx="407.0" cy="28.0" rx="42.36" ry="5.00" fill="#ff2600"/><ellipse cx="407.0" cy="28.0" rx="41.02" ry="3.75" fill="#ff2200"/><ellipse cx="407.0" cy="28.0" rx="39.68" ry="2.50" fill="#ff1d00"/><ellipse cx="407.0" cy="28.0" rx="38.34" ry="1.25" fill="#ff1800"/></g></g>
<path d="M307.80,35.21 L311.26,35.00 L314.72,34.78 L318.19,34.55 L321.65,34.30 L325.11,34.05 L328.57,33.78 L332.03,33.50 L335.49,33.21 L338.95,32.91 L342.42,32.61 L345.88,32.30 L349.34,31.98 L352.80,31.67 L356.26,31.35 L359.73,31.04 L363.19,30.74 L366.65,30.44 L370.11,30.15 L373.57,29.87 L377.03,29.61 L380.50,29.36 L383.96,29.13 L387.42,28.92 L390.88,28.74 L394.34,28.58 L397.80,28.45 L401.26,28.34 L404.73,28.27 L408.19,28.22 L411.65,28.20 L415.11,28.21 L418.57,28.25 L422.03,28.33 L425.50,28.42 L428.96,28.55 L432.42,28.71 L435.88,28.89 L439.34,29.09 L442.81,29.31 L446.27,29.55 L449.73,29.81 L453.19,30.09 L456.65,30.38 L460.11,30.67 L463.58,30.98 L467.04,31.29 L470.50,31.60 L473.96,31.92 L477.42,32.23 L480.88,32.54 L484.35,32.85 L487.81,33.15 L491.27,33.44 L494.73,33.72 L498.19,33.99 L501.65,34.25 L505.12,34.50 L508.58,34.74 L512.04,34.96 L515.50,35.17" fill="none" stroke="#333" stroke-width="0.8"/>
<rect x="307.8" y="7.5" width="207.7" height="119.0" fill="none" stroke="#777" stroke-width="1"/>
<path d="M322.2,126.5v-2.5M322.2,7.5v2.5M366.4,126.5v-2.5M366.4,7.5v2.5M410.3,126.5v-2.5M410.3,7.5v2.5M454.9,126.5v-2.5M454.9,7.5v2.5M499.7,126.5v-2.5M499.7,7.5v2.5M307.8,10.9h2.2M515.5,10.9h-2.2M307.8,20.0h2.2M515.5,20.0h-2.2M307.8,29.1h2.2M515.5,29.1h-2.2M307.8,38.1h2.2M515.5,38.1h-2.2M307.8,47.2h2.2M515.5,47.2h-2.2M307.8,56.3h2.2M515.5,56.3h-2.2M307.8,65.3h2.2M515.5,65.3h-2.2M307.8,74.4h2.2M515.5,74.4h-2.2M307.8,83.5h2.2M515.5,83.5h-2.2M307.8,92.6h2.2M515.5,92.6h-2.2M307.8,101.6h2.2M515.5,101.6h-2.2M307.8,110.7h2.2M515.5,110.7h-2.2M307.8,119.8h2.2M515.5,119.8h-2.2" stroke="#555" stroke-width="0.6" fill="none"/>
<text x="305.8" y="24.1" text-anchor="end" style="font-family:'Liberation Serif',serif;font-weight:bold;font-size:9.5px;stroke:#000;stroke-width:0.25px">5.4</text>
<text x="305.8" y="42.3" text-anchor="end" style="font-family:'Liberation Serif',serif;font-weight:bold;font-size:9.5px;stroke:#000;stroke-width:0.25px">5</text>
<text x="305.8" y="60.4" text-anchor="end" style="font-family:'Liberation Serif',serif;font-weight:bold;font-size:9.5px;stroke:#000;stroke-width:0.25px">4.6</text>
<text x="305.8" y="78.6" text-anchor="end" style="font-family:'Liberation Serif',serif;font-weight:bold;font-size:9.5px;stroke:#000;stroke-width:0.25px">4.2</text>
<text x="305.8" y="96.7" text-anchor="end" style="font-family:'Liberation Serif',serif;font-weight:bold;font-size:9.5px;stroke:#000;stroke-width:0.25px">3.8</text>
<text x="305.8" y="114.9" text-anchor="end" style="font-family:'Liberation Serif',serif;font-weight:bold;font-size:9.5px;stroke:#000;stroke-width:0.25px">3.4</text>
<text x="319.5" y="135.3" text-anchor="middle" style="font-family:'Liberation Serif',serif;font-weight:bold;font-size:9.5px;stroke:#000;stroke-width:0.25px">4</text>
<text x="365.5" y="135.3" text-anchor="middle" style="font-family:'Liberation Serif',serif;font-weight:bold;font-size:9.5px;stroke:#000;stroke-width:0.25px">5</text>
<text x="410.9" y="135.3" text-anchor="middle" style="font-family:'Liberation Serif',serif;font-weight:bold;font-size:9.5px;stroke:#000;stroke-width:0.25px">6</text>
<text x="454.4" y="135.3" text-anchor="middle" style="font-family:'Liberation Serif',serif;font-weight:bold;font-size:9.5px;stroke:#000;stroke-width:0.25px">7</text>
<text x="497.6" y="135.3" text-anchor="middle" style="font-family:'Liberation Serif',serif;font-weight:bold;font-size:9.5px;stroke:#000;stroke-width:0.25px">8</text>
<text x="415.9" y="143.5" text-anchor="middle" style="font-family:'Liberation Serif',serif;font-weight:bold;font-size:9.5px;stroke:#000;stroke-width:0.25px">Width(mm)</text>
<text transform="translate(287.3,64.3) rotate(-90)" text-anchor="middle" y="3.2" style="font-family:'Liberation Serif',serif;font-weight:bold;font-size:9.5px;stroke:#000;stroke-width:0.25px">Height(mm)</text>
<text x="281.0" y="13.0" style="font-family:'Liberation Serif',serif;font-weight:bold;font-size:9.5px;stroke:#000;stroke-width:0.25px">(b)</text>
<rect x="520.2" y="16.5" width="10.5" height="109.5" fill="url(#jetg)" stroke="#444" stroke-width="0.8"/>
<text x="533.7" y="24.1" style="font-family:'Liberation Serif',serif;font-weight:bold;font-size:9.5px;stroke:#000;stroke-width:0.25px">0.5</text>
<text x="533.7" y="45.0" style="font-family:'Liberation Serif',serif;font-weight:bold;font-size:9.5px;stroke:#000;stroke-width:0.25px">1</text>
<text x="533.7" y="65.8" style="font-family:'Liberation Serif',serif;font-weight:bold;font-size:9.5px;stroke:#000;stroke-width:0.25px">1.5</text>
<text x="533.7" y="86.7" style="font-family:'Liberation Serif',serif;font-weight:bold;font-size:9.5px;stroke:#000;stroke-width:0.25px">2</text>
<text x="533.7" y="107.5" style="font-family:'Liberation Serif',serif;font-weight:bold;font-size:9.5px;stroke:#000;stroke-width:0.25px">2.5</text>
<text x="533.7" y="128.3" style="font-family:'Liberation Serif',serif;font-weight:bold;font-size:9.5px;stroke:#000;stroke-width:0.25px">3</text>
<path d="M520.2,24.9h2M530.7,24.9h-2M520.2,45.1h2M530.7,45.1h-2M520.2,65.3h2M530.7,65.3h-2M520.2,85.5h2M530.7,85.5h-2M520.2,105.8h2M530.7,105.8h-2M520.2,126.0h2M530.7,126.0h-2" stroke="#333" stroke-width="0.7" fill="none"/>
<text x="519.2" y="12.5" style="font-family:'Liberation Serif',serif;font-weight:bold;font-size:9.5px;stroke:#000;stroke-width:0.25px">×10<tspan dy="-3" style="font-size:6.5px">3</tspan><tspan dy="3"> K</tspan></text>
<circle cx="408.0" cy="27.5" r="0.9" fill="#000"/>
<text x="409.5" y="34.9" style="font-family:'Liberation Sans',sans-serif;font-size:7.3px;letter-spacing:0.62px;fill:#000;stroke:#000;stroke-width:0.05px">max: 2609.48</text>
<g clip-path="url(#clipc)"><g filter="url(#bl)"><rect x="164.0" y="161.5" width="219.5" height="129.3" fill="#0000dd"/><path d="M60.60,191.60A210.00,200.00 0 0 0 270.60,391.60A214.00,200.00 0 0 0 484.60,191.60A214.00,200.00 0 0 0 270.60,-8.40A210.00,200.00 0 0 0 60.60,191.60Z" fill="#0000dd"/><path d="M61.49,191.60A209.11,198.75 0 0 0 270.60,390.35A213.11,198.75 0 0 0 483.71,191.60A213.11,198.75 0 0 0 270.60,-7.15A209.11,198.75 0 0 0 61.49,191.60Z" fill="#0000dd"/><path d="M62.39,191.60A208.21,197.50 0 0 0 270.60,389.10A212.21,197.50 0 0 0 482.81,191.60A212.21,197.50 0 0 0 270.60,-5.90A208.21,197.50 0 0 0 62.39,191.60Z" fill="#0000dd"/><path d="M63.28,191.60A207.32,196.25 0 0 0 270.60,387.85A211.32,196.25 0 0 0 481.92,191.60A211.32,196.25 0 0 0 270.60,-4.65A207.32,196.25 0 0 0 63.28,191.60Z" fill="#0000dd"/><path d="M64.17,191.60A206.43,195.00 0 0 0 270.60,386.60A210.43,195.00 0 0 0 481.03,191.60A210.43,195.00 0 0 0 270.60,-3.40A206.43,195.00 0 0 0 64.17,191.60Z" fill="#0000dd"/><path d="M65.06,191.60A205.54,193.75 0 0 0 270.60,385.35A209.54,193.75 0 0 0 480.14,191.60A209.54,193.75 0 0 0 270.60,-2.15A205.54,193.75 0 0 0 65.06,191.60Z" fill="#0000dd"/><path d="M65.96,191.60A204.64,192.50 0 0 0 270.60,384.10A208.64,192.50 0 0 0 479.24,191.60A208.64,192.50 0 0 0 270.60,-0.90A204.64,192.50 0 0 0 65.96,191.60Z" fill="#0000dd"/><path d="M66.85,191.60A203.75,191.25 0 0 0 270.60,382.85A207.75,191.25 0 0 0 478.35,191.60A207.75,191.25 0 0 0 270.60,0.35A203.75,191.25 0 0 0 66.85,191.60Z" fill="#0000dd"/><path d="M67.74,191.60A202.86,190.00 0 0 0 270.60,381.60A206.86,190.00 0 0 0 477.46,191.60A206.86,190.00 0 0 0 270.60,1.60A202.86,190.00 0 0 0 67.74,191.60Z" fill="#0000dd"/><path d="M68.64,191.60A201.96,188.75 0 0 0 270.60,380.35A205.96,188.75 0 0 0 476.56,191.60A205.96,188.75 0 0 0 270.60,2.85A201.96,188.75 0 0 0 68.64,191.60Z" fill="#0000dd"/><path d="M69.53,191.60A201.07,187.50 0 0 0 270.60,379.10A205.07,187.50 0 0 0 475.67,191.60A205.07,187.50 0 0 0 270.60,4.10A201.07,187.50 0 0 0 69.53,191.60Z" fill="#0000dd"/><path d="M70.42,191.60A200.18,186.25 0 0 0 270.60,377.85A204.18,186.25 0 0 0 474.78,191.60A204.18,186.25 0 0 0 270.60,5.35A200.18,186.25 0 0 0 70.42,191.60Z" fill="#0000dd"/><path d="M71.31,191.60A199.29,185.00 0 0 0 270.60,376.60A203.29,185.00 0 0 0 473.89,191.60A203.29,185.00 0 0 0 270.60,6.60A199.29,185.00 0 0 0 71.31,191.60Z" fill="#0000dd"/><path d="M72.21,191.60A198.39,183.75 0 0 0 270.60,375.35A202.39,183.75 0 0 0 472.99,191.60A202.39,183.75 0 0 0 270.60,7.85A198.39,183.75 0 0 0 72.21,191.60Z" fill="#0000dd"/><path d="M73.10,191.60A197.50,182.50 0 0 0 270.60,374.10A201.50,182.50 0 0 0 472.10,191.60A201.50,182.50 0 0 0 270.60,9.10A197.50,182.50 0 0 0 73.10,191.60Z" fill="#0000dd"/><path d="M73.99,191.60A196.61,181.25 0 0 0 270.60,372.85A200.61,181.25 0 0 0 471.21,191.60A200.61,181.25 0 0 0 270.60,10.35A196.61,181.25 0 0 0 73.99,191.60Z" fill="#0000dd"/><path d="M74.89,191.60A195.71,180.00 0 0 0 270.60,371.60A199.71,180.00 0 0 0 470.31,191.60A199.71,180.00 0 0 0 270.60,11.60A195.71,180.00 0 0 0 74.89,191.60Z" fill="#0000dd"/><path d="M75.78,191.60A194.82,178.75 0 0 0 270.60,370.35A198.82,178.75 0 0 0 469.42,191.60A198.82,178.75 0 0 0 270.60,12.85A194.82,178.75 0 0 0 75.78,191.60Z" fill="#0000dd"/><path d="M76.67,191.60A193.93,177.50 0 0 0 270.60,369.10A197.93,177.50 0 0 0 468.53,191.60A197.93,177.50 0 0 0 270.60,14.10A193.93,177.50 0 0 0 76.67,191.60Z" fill="#0000dd"/><path d="M77.56,191.60A193.04,176.25 0 0 0 270.60,367.85A197.04,176.25 0 0 0 467.64,191.60A197.04,176.25 0 0 0 270.60,15.35A193.04,176.25 0 0 0 77.56,191.60Z" fill="#0000dd"/><path d="M78.46,191.60A192.14,175.00 0 0 0 270.60,366.60A196.14,175.00 0 0 0 466.74,191.60A196.14,175.00 0 0 0 270.60,16.60A192.14,175.00 0 0 0 78.46,191.60Z" fill="#0000dd"/><path d="M79.35,191.60A191.25,173.75 0 0 0 270.60,365.35A195.25,173.75 0 0 0 465.85,191.60A195.25,173.75 0 0 0 270.60,17.85A191.25,173.75 0 0 0 79.35,191.60Z" fill="#0000dd"/><path d="M80.24,191.60A190.36,172.50 0 0 0 270.60,364.10A194.36,172.50 0 0 0 464.96,191.60A194.36,172.50 0 0 0 270.60,19.10A190.36,172.50 0 0 0 80.24,191.60Z" fill="#0000dd"/><path d="M81.14,191.60A189.46,171.25 0 0 0 270.60,362.85A193.46,171.25 0 0 0 464.06,191.60A193.46,171.25 0 0 0 270.60,20.35A189.46,171.25 0 0 0 81.14,191.60Z" fill="#0000dd"/><path d="M82.03,191.60A188.57,170.00 0 0 0 270.60,361.60A192.57,170.00 0 0 0 463.17,191.60A192.57,170.00 0 0 0 270.60,21.60A188.57,170.00 0 0 0 82.03,191.60Z" fill="#0000dd"/><path d="M82.92,191.60A187.68,168.75 0 0 0 270.60,360.35A191.68,168.75 0 0 0 462.28,191.60A191.68,168.75 0 0 0 270.60,22.85A187.68,168.75 0 0 0 82.92,191.60Z" fill="#0000dd"/><path d="M83.81,191.60A186.79,167.50 0 0 0 270.60,359.10A190.79,167.50 0 0 0 461.39,191.60A190.79,167.50 0 0 0 270.60,24.10A186.79,167.50 0 0 0 83.81,191.60Z" fill="#0000dd"/><path d="M84.71,191.60A185.89,166.25 0 0 0 270.60,357.85A189.89,166.25 0 0 0 460.49,191.60A189.89,166.25 0 0 0 270.60,25.35A185.89,166.25 0 0 0 84.71,191.60Z" fill="#0000de"/><path d="M85.60,191.60A185.00,165.00 0 0 0 270.60,356.60A189.00,165.00 0 0 0 459.60,191.60A189.00,165.00 0 0 0 270.60,26.60A185.00,165.00 0 0 0 85.60,191.60Z" fill="#0000e0"/><path d="M86.49,191.60A184.11,163.75 0 0 0 270.60,355.35A188.11,163.75 0 0 0 458.71,191.60A188.11,163.75 0 0 0 270.60,27.85A184.11,163.75 0 0 0 86.49,191.60Z" fill="#0000e2"/><path d="M87.39,191.60A183.21,162.50 0 0 0 270.60,354.10A187.21,162.50 0 0 0 457.81,191.60A187.21,162.50 0 0 0 270.60,29.10A183.21,162.50 0 0 0 87.39,191.60Z" fill="#0000e4"/><path d="M88.28,191.60A182.32,161.25 0 0 0 270.60,352.85A186.32,161.25 0 0 0 456.92,191.60A186.32,161.25 0 0 0 270.60,30.35A182.32,161.25 0 0 0 88.28,191.60Z" fill="#0000e6"/><path d="M89.17,191.60A181.43,160.00 0 0 0 270.60,351.60A185.43,160.00 0 0 0 456.03,191.60A185.43,160.00 0 0 0 270.60,31.60A181.43,160.00 0 0 0 89.17,191.60Z" fill="#0000e8"/><path d="M90.06,191.60A180.54,158.75 0 0 0 270.60,350.35A184.54,158.75 0 0 0 455.14,191.60A184.54,158.75 0 0 0 270.60,32.85A180.54,158.75 0 0 0 90.06,191.60Z" fill="#0000ea"/><path d="M90.96,191.60A179.64,157.50 0 0 0 270.60,349.10A183.64,157.50 0 0 0 454.24,191.60A183.64,157.50 0 0 0 270.60,34.10A179.64,157.50 0 0 0 90.96,191.60Z" fill="#0000ec"/><path d="M91.85,191.60A178.75,156.25 0 0 0 270.60,347.85A182.75,156.25 0 0 0 453.35,191.60A182.75,156.25 0 0 0 270.60,35.35A178.75,156.25 0 0 0 91.85,191.60Z" fill="#0000ef"/><path d="M92.74,191.60A177.86,155.00 0 0 0 270.60,346.60A181.86,155.00 0 0 0 452.46,191.60A181.86,155.00 0 0 0 270.60,36.60A177.86,155.00 0 0 0 92.74,191.60Z" fill="#0000f1"/><path d="M93.64,191.60A176.96,153.75 0 0 0 270.60,345.35A180.96,153.75 0 0 0 451.56,191.60A180.96,153.75 0 0 0 270.60,37.85A176.96,153.75 0 0 0 93.64,191.60Z" fill="#0000f3"/><path d="M94.53,191.60A176.07,152.50 0 0 0 270.60,344.10A180.07,152.50 0 0 0 450.67,191.60A180.07,152.50 0 0 0 270.60,39.10A176.07,152.50 0 0 0 94.53,191.60Z" fill="#0000f5"/><path d="M95.42,191.60A175.18,151.25 0 0 0 270.60,342.85A179.18,151.25 0 0 0 449.78,191.60A179.18,151.25 0 0 0 270.60,40.35A175.18,151.25 0 0 0 95.42,191.60Z" fill="#0000f7"/><path d="M96.31,191.60A174.29,150.00 0 0 0 270.60,341.60A178.29,150.00 0 0 0 448.89,191.60A178.29,150.00 0 0 0 270.60,41.60A174.29,150.00 0 0 0 96.31,191.60Z" fill="#0000f9"/><path d="M97.21,191.60A173.39,148.75 0 0 0 270.60,340.35A177.39,148.75 0 0 0 447.99,191.60A177.39,148.75 0 0 0 270.60,42.85A173.39,148.75 0 0 0 97.21,191.60Z" fill="#0000fb"/><path d="M98.10,191.60A172.50,147.50 0 0 0 270.60,339.10A176.50,147.50 0 0 0 447.10,191.60A176.50,147.50 0 0 0 270.60,44.10A172.50,147.50 0 0 0 98.10,191.60Z" fill="#0000fd"/><path d="M98.99,191.60A171.61,146.25 0 0 0 270.60,337.85A175.61,146.25 0 0 0 446.21,191.60A175.61,146.25 0 0 0 270.60,45.35A171.61,146.25 0 0 0 98.99,191.60Z" fill="#0000ff"/><path d="M99.89,191.60A170.71,145.00 0 0 0 270.60,336.60A174.71,145.00 0 0 0 445.31,191.60A174.71,145.00 0 0 0 270.60,46.60A170.71,145.00 0 0 0 99.89,191.60Z" fill="#0002ff"/><path d="M100.78,191.60A169.82,143.75 0 0 0 270.60,335.35A173.82,143.75 0 0 0 444.42,191.60A173.82,143.75 0 0 0 270.60,47.85A169.82,143.75 0 0 0 100.78,191.60Z" fill="#0005ff"/><path d="M101.67,191.60A168.93,142.50 0 0 0 270.60,334.10A172.93,142.50 0 0 0 443.53,191.60A172.93,142.50 0 0 0 270.60,49.10A168.93,142.50 0 0 0 101.67,191.60Z" fill="#0007ff"/><path d="M102.56,191.60A168.04,141.25 0 0 0 270.60,332.85A172.04,141.25 0 0 0 442.64,191.60A172.04,141.25 0 0 0 270.60,50.35A168.04,141.25 0 0 0 102.56,191.60Z" fill="#0009ff"/><path d="M103.46,191.60A167.14,140.00 0 0 0 270.60,331.60A171.14,140.00 0 0 0 441.74,191.60A171.14,140.00 0 0 0 270.60,51.60A167.14,140.00 0 0 0 103.46,191.60Z" fill="#000bff"/><path d="M104.35,191.60A166.25,138.75 0 0 0 270.60,330.35A170.25,138.75 0 0 0 440.85,191.60A170.25,138.75 0 0 0 270.60,52.85A166.25,138.75 0 0 0 104.35,191.60Z" fill="#000dff"/><path d="M105.24,191.60A165.36,137.50 0 0 0 270.60,329.10A169.36,137.50 0 0 0 439.96,191.60A169.36,137.50 0 0 0 270.60,54.10A165.36,137.50 0 0 0 105.24,191.60Z" fill="#000fff"/><path d="M106.14,191.60A164.46,136.25 0 0 0 270.60,327.85A168.46,136.25 0 0 0 439.06,191.60A168.46,136.25 0 0 0 270.60,55.35A164.46,136.25 0 0 0 106.14,191.60Z" fill="#0011ff"/><path d="M107.03,191.60A163.57,135.00 0 0 0 270.60,326.60A167.57,135.00 0 0 0 438.17,191.60A167.57,135.00 0 0 0 270.60,56.60A163.57,135.00 0 0 0 107.03,191.60Z" fill="#0013ff"/><path d="M107.92,191.60A162.68,133.75 0 0 0 270.60,325.35A166.68,133.75 0 0 0 437.28,191.60A166.68,133.75 0 0 0 270.60,57.85A162.68,133.75 0 0 0 107.92,191.60Z" fill="#0015ff"/><path d="M108.81,191.60A161.79,132.50 0 0 0 270.60,324.10A165.79,132.50 0 0 0 436.39,191.60A165.79,132.50 0 0 0 270.60,59.10A161.79,132.50 0 0 0 108.81,191.60Z" fill="#0017ff"/><path d="M109.71,191.60A160.89,131.25 0 0 0 270.60,322.85A164.89,131.25 0 0 0 435.49,191.60A164.89,131.25 0 0 0 270.60,60.35A160.89,131.25 0 0 0 109.71,191.60Z" fill="#0019ff"/><path d="M110.60,191.60A160.00,130.00 0 0 0 270.60,321.60A164.00,130.00 0 0 0 434.60,191.60A164.00,130.00 0 0 0 270.60,61.60A160.00,130.00 0 0 0 110.60,191.60Z" fill="#001cff"/><path d="M111.76,191.60A158.84,128.75 0 0 0 270.60,320.35A162.87,128.75 0 0 0 433.47,191.60A162.87,128.75 0 0 0 270.60,62.85A158.84,128.75 0 0 0 111.76,191.60Z" fill="#001eff"/><path d="M112.91,191.60A157.69,127.50 0 0 0 270.60,319.10A161.74,127.50 0 0 0 432.34,191.60A161.74,127.50 0 0 0 270.60,64.10A157.69,127.50 0 0 0 112.91,191.60Z" fill="#0020ff"/><path d="M114.07,191.60A156.53,126.25 0 0 0 270.60,317.85A160.61,126.25 0 0 0 431.21,191.60A160.61,126.25 0 0 0 270.60,65.35A156.53,126.25 0 0 0 114.07,191.60Z" fill="#0022ff"/><path d="M115.23,191.60A155.37,125.00 0 0 0 270.60,316.60A159.49,125.00 0 0 0 430.09,191.60A159.49,125.00 0 0 0 270.60,66.60A155.37,125.00 0 0 0 115.23,191.60Z" fill="#0024ff"/><path d="M116.39,191.60A154.21,123.75 0 0 0 270.60,315.35A158.36,123.75 0 0 0 428.96,191.60A158.36,123.75 0 0 0 270.60,67.85A154.21,123.75 0 0 0 116.39,191.60Z" fill="#0026ff"/><path d="M117.54,191.60A153.06,122.50 0 0 0 270.60,314.10A157.23,122.50 0 0 0 427.83,191.60A157.23,122.50 0 0 0 270.60,69.10A153.06,122.50 0 0 0 117.54,191.60Z" fill="#0028ff"/><path d="M118.70,191.60A151.90,121.25 0 0 0 270.60,312.85A156.10,121.25 0 0 0 426.70,191.60A156.10,121.25 0 0 0 270.60,70.35A151.90,121.25 0 0 0 118.70,191.60Z" fill="#002bff"/><path d="M119.86,191.60A150.74,120.00 0 0 0 270.60,311.60A154.97,120.00 0 0 0 425.57,191.60A154.97,120.00 0 0 0 270.60,71.60A150.74,120.00 0 0 0 119.86,191.60Z" fill="#002fff"/><path d="M121.01,191.60A149.59,118.75 0 0 0 270.60,310.35A153.84,118.75 0 0 0 424.44,191.60A153.84,118.75 0 0 0 270.60,72.85A149.59,118.75 0 0 0 121.01,191.60Z" fill="#0032ff"/><path d="M122.17,191.60A148.43,117.50 0 0 0 270.60,309.10A152.71,117.50 0 0 0 423.31,191.60A152.71,117.50 0 0 0 270.60,74.10A148.43,117.50 0 0 0 122.17,191.60Z" fill="#0036ff"/><path d="M123.33,191.60A147.27,116.25 0 0 0 270.60,307.85A151.59,116.25 0 0 0 422.19,191.60A151.59,116.25 0 0 0 270.60,75.35A147.27,116.25 0 0 0 123.33,191.60Z" fill="#0039ff"/><path d="M124.49,191.60A146.11,115.00 0 0 0 270.60,306.60A150.46,115.00 0 0 0 421.06,191.60A150.46,115.00 0 0 0 270.60,76.60A146.11,115.00 0 0 0 124.49,191.60Z" fill="#003dff"/><path d="M125.64,191.60A144.96,113.75 0 0 0 270.60,305.35A149.33,113.75 0 0 0 419.93,191.60A149.33,113.75 0 0 0 270.60,77.85A144.96,113.75 0 0 0 125.64,191.60Z" fill="#0040ff"/><path d="M126.80,191.60A143.80,112.50 0 0 0 270.60,304.10A148.20,112.50 0 0 0 418.80,191.60A148.20,112.50 0 0 0 270.60,79.10A143.80,112.50 0 0 0 126.80,191.60Z" fill="#0044ff"/><path d="M127.96,191.60A142.64,111.25 0 0 0 270.60,302.85A147.07,111.25 0 0 0 417.67,191.60A147.07,111.25 0 0 0 270.60,80.35A142.64,111.25 0 0 0 127.96,191.60Z" fill="#0047ff"/><path d="M129.11,191.60A141.49,110.00 0 0 0 270.60,301.60A145.94,110.00 0 0 0 416.54,191.60A145.94,110.00 0 0 0 270.60,81.60A141.49,110.00 0 0 0 129.11,191.60Z" fill="#004bff"/><path d="M130.27,191.60A140.33,108.75 0 0 0 270.60,300.35A144.81,108.75 0 0 0 415.41,191.60A144.81,108.75 0 0 0 270.60,82.85A140.33,108.75 0 0 0 130.27,191.60Z" fill="#004eff"/><path d="M131.43,191.60A139.17,107.50 0 0 0 270.60,299.10A143.69,107.50 0 0 0 414.29,191.60A143.69,107.50 0 0 0 270.60,84.10A139.17,107.50 0 0 0 131.43,191.60Z" fill="#0052ff"/><path d="M132.59,191.60A138.01,106.25 0 0 0 270.60,297.85A142.56,106.25 0 0 0 413.16,191.60A142.56,106.25 0 0 0 270.60,85.35A138.01,106.25 0 0 0 132.59,191.60Z" fill="#0055ff"/><path d="M133.74,191.60A136.86,105.00 0 0 0 270.60,296.60A141.43,105.00 0 0 0 412.03,191.60A141.43,105.00 0 0 0 270.60,86.60A136.86,105.00 0 0 0 133.74,191.60Z" fill="#0059ff"/><path d="M134.90,191.60A135.70,103.75 0 0 0 270.60,295.35A140.30,103.75 0 0 0 410.90,191.60A140.30,103.75 0 0 0 270.60,87.85A135.70,103.75 0 0 0 134.90,191.60Z" fill="#005dff"/><path d="M136.06,191.60A134.54,102.50 0 0 0 270.60,294.10A139.17,102.50 0 0 0 409.77,191.60A139.17,102.50 0 0 0 270.60,89.10A134.54,102.50 0 0 0 136.06,191.60Z" fill="#0060ff"/><path d="M137.21,191.60A133.39,101.25 0 0 0 270.60,292.85A138.04,101.25 0 0 0 408.64,191.60A138.04,101.25 0 0 0 270.60,90.35A133.39,101.25 0 0 0 137.21,191.60Z" fill="#0064ff"/><path d="M138.37,191.60A132.23,100.00 0 0 0 270.60,291.60A136.91,100.00 0 0 0 407.51,191.60A136.91,100.00 0 0 0 270.60,91.60A132.23,100.00 0 0 0 138.37,191.60Z" fill="#0067ff"/><path d="M139.53,191.60A131.07,98.75 0 0 0 270.60,290.35A135.79,98.75 0 0 0 406.39,191.60A135.79,98.75 0 0 0 270.60,92.85A131.07,98.75 0 0 0 139.53,191.60Z" fill="#006bff"/><path d="M140.69,191.60A129.91,97.50 0 0 0 270.60,289.10A134.66,97.50 0 0 0 405.26,191.60A134.66,97.50 0 0 0 270.60,94.10A129.91,97.50 0 0 0 140.69,191.60Z" fill="#006eff"/><path d="M141.84,191.60A128.76,96.25 0 0 0 270.60,287.85A133.53,96.25 0 0 0 404.13,191.60A133.53,96.25 0 0 0 270.60,95.35A128.76,96.25 0 0 0 141.84,191.60Z" fill="#0072ff"/><path d="M143.00,191.60A127.60,95.00 0 0 0 270.60,286.60A132.40,95.00 0 0 0 403.00,191.60A132.40,95.00 0 0 0 270.60,96.60A127.60,95.00 0 0 0 143.00,191.60Z" fill="#0075ff"/><path d="M144.32,191.60A126.28,93.75 0 0 0 270.60,285.35A131.08,93.75 0 0 0 401.68,191.60A131.08,93.75 0 0 0 270.60,97.85A126.28,93.75 0 0 0 144.32,191.60Z" fill="#0079ff"/><path d="M145.64,191.60A124.96,92.50 0 0 0 270.60,284.10A129.76,92.50 0 0 0 400.36,191.60A129.76,92.50 0 0 0 270.60,99.10A124.96,92.50 0 0 0 145.64,191.60Z" fill="#007dff"/><path d="M146.96,191.60A123.64,91.25 0 0 0 270.60,282.85A128.44,91.25 0 0 0 399.04,191.60A128.44,91.25 0 0 0 270.60,100.35A123.64,91.25 0 0 0 146.96,191.60Z" fill="#0081ff"/><path d="M148.28,191.60A122.32,90.00 0 0 0 270.60,281.60A127.12,90.00 0 0 0 397.72,191.60A127.12,90.00 0 0 0 270.60,101.60A122.32,90.00 0 0 0 148.28,191.60Z" fill="#0086ff"/><path d="M149.60,191.60A121.00,88.75 0 0 0 270.60,280.35A125.80,88.75 0 0 0 396.40,191.60A125.80,88.75 0 0 0 270.60,102.85A121.00,88.75 0 0 0 149.60,191.60Z" fill="#008aff"/><path d="M150.92,191.60A119.68,87.50 0 0 0 270.60,279.10A124.48,87.50 0 0 0 395.08,191.60A124.48,87.50 0 0 0 270.60,104.10A119.68,87.50 0 0 0 150.92,191.60Z" fill="#008eff"/><path d="M152.24,191.60A118.36,86.25 0 0 0 270.60,277.85A123.16,86.25 0 0 0 393.76,191.60A123.16,86.25 0 0 0 270.60,105.35A118.36,86.25 0 0 0 152.24,191.60Z" fill="#0093ff"/><path d="M153.56,191.60A117.04,85.00 0 0 0 270.60,276.60A121.84,85.00 0 0 0 392.44,191.60A121.84,85.00 0 0 0 270.60,106.60A117.04,85.00 0 0 0 153.56,191.60Z" fill="#0097ff"/><path d="M154.88,191.60A115.72,83.75 0 0 0 270.60,275.35A120.53,83.75 0 0 0 391.12,191.60A120.53,83.75 0 0 0 270.60,107.85A115.72,83.75 0 0 0 154.88,191.60Z" fill="#009bff"/><path d="M156.19,191.60A114.41,82.50 0 0 0 270.60,274.10A119.21,82.50 0 0 0 389.81,191.60A119.21,82.50 0 0 0 270.60,109.10A114.41,82.50 0 0 0 156.19,191.60Z" fill="#009fff"/><path d="M157.51,191.60A113.09,81.25 0 0 0 270.60,272.85A117.89,81.25 0 0 0 388.49,191.60A117.89,81.25 0 0 0 270.60,110.35A113.09,81.25 0 0 0 157.51,191.60Z" fill="#00a4ff"/><path d="M158.83,191.60A111.77,80.00 0 0 0 270.60,271.60A116.57,80.00 0 0 0 387.17,191.60A116.57,80.00 0 0 0 270.60,111.60A111.77,80.00 0 0 0 158.83,191.60Z" fill="#00a8ff"/><path d="M160.15,191.60A110.45,78.75 0 0 0 270.60,270.35A115.25,78.75 0 0 0 385.85,191.60A115.25,78.75 0 0 0 270.60,112.85A110.45,78.75 0 0 0 160.15,191.60Z" fill="#00afff"/><path d="M161.47,191.60A109.13,77.50 0 0 0 270.60,269.10A113.93,77.50 0 0 0 384.53,191.60A113.93,77.50 0 0 0 270.60,114.10A109.13,77.50 0 0 0 161.47,191.60Z" fill="#00b7ff"/><path d="M162.69,191.60A107.91,76.25 0 0 0 270.60,267.85A112.71,76.25 0 0 0 383.31,191.60A112.71,76.25 0 0 0 270.60,115.35A107.91,76.25 0 0 0 162.69,191.60Z" fill="#00c0ff"/><path d="M163.85,191.60A106.75,75.00 0 0 0 270.60,266.60A111.55,75.00 0 0 0 382.15,191.60A111.55,75.00 0 0 0 270.60,116.60A106.75,75.00 0 0 0 163.85,191.60Z" fill="#00c8ff"/><path d="M165.00,191.60A105.60,73.75 0 0 0 270.60,265.35A110.40,73.75 0 0 0 381.00,191.60A110.40,73.75 0 0 0 270.60,117.85A105.60,73.75 0 0 0 165.00,191.60Z" fill="#00d0ff"/><path d="M166.15,191.60A104.45,72.50 0 0 0 270.60,264.10A109.25,72.50 0 0 0 379.85,191.60A109.25,72.50 0 0 0 270.60,119.10A104.45,72.50 0 0 0 166.15,191.60Z" fill="#00d8ff"/><path d="M167.31,191.60A103.29,71.25 0 0 0 270.60,262.85A108.09,71.25 0 0 0 378.69,191.60A108.09,71.25 0 0 0 270.60,120.35A103.29,71.25 0 0 0 167.31,191.60Z" fill="#00e0ff"/><path d="M168.46,191.60A102.14,70.00 0 0 0 270.60,261.60A106.94,70.00 0 0 0 377.54,191.60A106.94,70.00 0 0 0 270.60,121.60A102.14,70.00 0 0 0 168.46,191.60Z" fill="#00e8ff"/><path d="M169.62,191.60A100.98,68.75 0 0 0 270.60,260.35A105.78,68.75 0 0 0 376.38,191.60A105.78,68.75 0 0 0 270.60,122.85A100.98,68.75 0 0 0 169.62,191.60Z" fill="#00f0ff"/><path d="M170.77,191.60A99.83,67.50 0 0 0 270.60,259.10A104.63,67.50 0 0 0 375.23,191.60A104.63,67.50 0 0 0 270.60,124.10A99.83,67.50 0 0 0 170.77,191.60Z" fill="#00f9ff"/><path d="M171.92,191.60A98.68,66.25 0 0 0 270.60,257.85A103.48,66.25 0 0 0 374.08,191.60A103.48,66.25 0 0 0 270.60,125.35A98.68,66.25 0 0 0 171.92,191.60Z" fill="#02fffd"/><path d="M173.08,191.60A97.52,65.00 0 0 0 270.60,256.60A102.32,65.00 0 0 0 372.92,191.60A102.32,65.00 0 0 0 270.60,126.60A97.52,65.00 0 0 0 173.08,191.60Z" fill="#0efff1"/><path d="M174.26,191.60A96.34,63.75 0 0 0 270.60,255.35A101.10,63.75 0 0 0 371.70,191.60A101.10,63.75 0 0 0 270.60,127.85A96.34,63.75 0 0 0 174.26,191.60Z" fill="#1affe5"/><path d="M175.58,191.60A95.02,62.50 0 0 0 270.60,254.10A99.60,62.50 0 0 0 370.20,191.60A99.60,62.50 0 0 0 270.60,129.10A95.02,62.50 0 0 0 175.58,191.60Z" fill="#26ffd9"/><path d="M176.89,191.60A93.71,61.25 0 0 0 270.60,252.85A98.10,61.25 0 0 0 368.70,191.60A98.10,61.25 0 0 0 270.60,130.35A93.71,61.25 0 0 0 176.89,191.60Z" fill="#32ffcd"/><path d="M178.20,191.60A92.40,60.00 0 0 0 270.60,251.60A96.60,60.00 0 0 0 367.20,191.60A96.60,60.00 0 0 0 270.60,131.60A92.40,60.00 0 0 0 178.20,191.60Z" fill="#3effc1"/><path d="M179.51,191.60A91.09,58.75 0 0 0 270.60,250.35A95.10,58.75 0 0 0 365.70,191.60A95.10,58.75 0 0 0 270.60,132.85A91.09,58.75 0 0 0 179.51,191.60Z" fill="#4affb5"/><path d="M180.83,191.60A89.77,57.50 0 0 0 270.60,249.10A93.60,57.50 0 0 0 364.20,191.60A93.60,57.50 0 0 0 270.60,134.10A89.77,57.50 0 0 0 180.83,191.60Z" fill="#56ffa9"/><path d="M182.14,191.60A88.46,56.25 0 0 0 270.60,247.85A92.10,56.25 0 0 0 362.70,191.60A92.10,56.25 0 0 0 270.60,135.35A88.46,56.25 0 0 0 182.14,191.60Z" fill="#62ff9d"/><path d="M183.45,191.60A87.15,55.00 0 0 0 270.60,246.60A90.60,55.00 0 0 0 361.20,191.60A90.60,55.00 0 0 0 270.60,136.60A87.15,55.00 0 0 0 183.45,191.60Z" fill="#6dff92"/><path d="M184.76,191.60A85.84,53.75 0 0 0 270.60,245.35A89.10,53.75 0 0 0 359.70,191.60A89.10,53.75 0 0 0 270.60,137.85A85.84,53.75 0 0 0 184.76,191.60Z" fill="#79ff86"/><path d="M186.08,191.60A84.52,52.50 0 0 0 270.60,244.10A87.60,52.50 0 0 0 358.20,191.60A87.60,52.50 0 0 0 270.60,139.10A84.52,52.50 0 0 0 186.08,191.60Z" fill="#85ff7a"/><path d="M187.39,191.60A83.21,51.25 0 0 0 270.60,242.85A86.10,51.25 0 0 0 356.70,191.60A86.10,51.25 0 0 0 270.60,140.35A83.21,51.25 0 0 0 187.39,191.60Z" fill="#91ff6e"/><path d="M188.70,191.60A81.90,50.00 0 0 0 270.60,241.60A84.60,50.00 0 0 0 355.20,191.60A84.60,50.00 0 0 0 270.60,141.60A81.90,50.00 0 0 0 188.70,191.60Z" fill="#99ff66"/><path d="M190.01,191.60A80.59,48.75 0 0 0 270.60,240.35A83.10,48.75 0 0 0 353.70,191.60A83.10,48.75 0 0 0 270.60,142.85A80.59,48.75 0 0 0 190.01,191.60Z" fill="#9fff60"/><path d="M191.33,191.60A79.28,47.50 0 0 0 270.60,239.10A81.60,47.50 0 0 0 352.20,191.60A81.60,47.50 0 0 0 270.60,144.10A79.28,47.50 0 0 0 191.33,191.60Z" fill="#a6ff59"/><path d="M192.64,191.60A77.96,46.25 0 0 0 270.60,237.85A80.10,46.25 0 0 0 350.70,191.60A80.10,46.25 0 0 0 270.60,145.35A77.96,46.25 0 0 0 192.64,191.60Z" fill="#acff53"/><path d="M193.95,191.60A76.65,45.00 0 0 0 270.60,236.60A78.60,45.00 0 0 0 349.20,191.60A78.60,45.00 0 0 0 270.60,146.60A76.65,45.00 0 0 0 193.95,191.60Z" fill="#b2ff4d"/><path d="M195.26,191.60A75.34,43.75 0 0 0 270.60,235.35A77.10,43.75 0 0 0 347.70,191.60A77.10,43.75 0 0 0 270.60,147.85A75.34,43.75 0 0 0 195.26,191.60Z" fill="#b9ff46"/><path d="M196.58,191.60A74.03,42.50 0 0 0 270.60,234.10A75.60,42.50 0 0 0 346.20,191.60A75.60,42.50 0 0 0 270.60,149.10A74.03,42.50 0 0 0 196.58,191.60Z" fill="#c1ff3e"/><path d="M197.89,191.60A72.71,41.25 0 0 0 270.60,232.85A74.10,41.25 0 0 0 344.70,191.60A74.10,41.25 0 0 0 270.60,150.35A72.71,41.25 0 0 0 197.89,191.60Z" fill="#c8ff37"/><path d="M199.20,191.60A71.40,40.00 0 0 0 270.60,231.60A72.60,40.00 0 0 0 343.20,191.60A72.60,40.00 0 0 0 270.60,151.60A71.40,40.00 0 0 0 199.20,191.60Z" fill="#d0ff2f"/><path d="M200.51,191.60A70.09,38.75 0 0 0 270.60,230.35A71.10,38.75 0 0 0 341.70,191.60A71.10,38.75 0 0 0 270.60,152.85A70.09,38.75 0 0 0 200.51,191.60Z" fill="#d7ff28"/><path d="M201.83,191.60A68.78,37.50 0 0 0 270.60,229.10A69.60,37.50 0 0 0 340.20,191.60A69.60,37.50 0 0 0 270.60,154.10A68.78,37.50 0 0 0 201.83,191.60Z" fill="#deff21"/><path d="M203.14,191.60A67.46,36.25 0 0 0 270.60,227.85A68.10,36.25 0 0 0 338.70,191.60A68.10,36.25 0 0 0 270.60,155.35A67.46,36.25 0 0 0 203.14,191.60Z" fill="#e6ff19"/><path d="M204.45,191.60A66.15,35.00 0 0 0 270.60,226.60A66.60,35.00 0 0 0 337.20,191.60A66.60,35.00 0 0 0 270.60,156.60A66.15,35.00 0 0 0 204.45,191.60Z" fill="#edff12"/><path d="M205.76,191.60A64.84,33.75 0 0 0 270.60,225.35A65.10,33.75 0 0 0 335.70,191.60A65.10,33.75 0 0 0 270.60,157.85A64.84,33.75 0 0 0 205.76,191.60Z" fill="#f5ff0a"/><path d="M207.08,191.60A63.52,32.50 0 0 0 270.60,224.10A63.60,32.50 0 0 0 334.20,191.60A63.60,32.50 0 0 0 270.60,159.10A63.52,32.50 0 0 0 207.08,191.60Z" fill="#fcff03"/><ellipse cx="270.6" cy="191.6" rx="62.25" ry="31.25" fill="#fff700"/><ellipse cx="270.6" cy="191.6" rx="61.00" ry="30.00" fill="#ffeb00"/><ellipse cx="270.6" cy="191.6" rx="59.75" ry="28.75" fill="#ffde00"/><ellipse cx="270.6" cy="191.6" rx="58.50" ry="27.50" fill="#ffd100"/><ellipse cx="270.6" cy="191.6" rx="57.25" ry="26.25" fill="#ffc500"/><ellipse cx="270.6" cy="191.6" rx="56.00" ry="25.00" fill="#ffb800"/><ellipse cx="270.6" cy="191.6" rx="54.75" ry="23.75" fill="#ffad00"/><ellipse cx="270.6" cy="191.6" rx="53.50" ry="22.50" fill="#ffa500"/><ellipse cx="270.6" cy="191.6" rx="52.25" ry="21.25" fill="#ff9e00"/><ellipse cx="270.6" cy="191.6" rx="51.00" ry="20.00" fill="#ff9700"/><ellipse cx="270.6" cy="191.6" rx="49.75" ry="18.75" fill="#ff9000"/><ellipse cx="270.6" cy="191.6" rx="48.50" ry="17.50" fill="#ff8900"/><ellipse cx="270.6" cy="191.6" rx="47.25" ry="16.25" fill="#ff8200"/><ellipse cx="270.6" cy="191.6" rx="46.00" ry="15.00" fill="#ff7d00"/><ellipse cx="270.6" cy="191.6" rx="44.73" ry="13.75" fill="#ff7800"/><ellipse cx="270.6" cy="191.6" rx="43.39" ry="12.50" fill="#ff7400"/><ellipse cx="270.6" cy="191.6" rx="42.05" ry="11.25" fill="#ff6f00"/><ellipse cx="270.6" cy="191.6" rx="40.71" ry="10.00" fill="#ff6a00"/><ellipse cx="270.6" cy="191.6" rx="39.38" ry="8.75" fill="#ff6500"/><ellipse cx="270.6" cy="191.6" rx="38.04" ry="7.50" fill="#ff6100"/><ellipse cx="270.6" cy="191.6" rx="36.70" ry="6.25" fill="#ff5f00"/><ellipse cx="270.6" cy="191.6" rx="35.36" ry="5.00" fill="#ff5c00"/><ellipse cx="270.6" cy="191.6" rx="34.02" ry="3.75" fill="#ff5900"/><ellipse cx="270.6" cy="191.6" rx="32.68" ry="2.50" fill="#ff5600"/><ellipse cx="270.6" cy="191.6" rx="31.34" ry="1.25" fill="#ff5400"/><circle cx="197.0" cy="212.6" r="2.0" fill="#e1f528"/><circle cx="270.0" cy="234.6" r="1.8" fill="#50e6a0"/><circle cx="266.6" cy="239.0" r="1.0" fill="#b4f050"/></g></g>
<path d="M169.00,198.63 L172.49,198.44 L175.98,198.23 L179.47,198.01 L182.97,197.78 L186.46,197.53 L189.95,197.28 L193.44,197.01 L196.93,196.73 L200.43,196.45 L203.92,196.16 L207.41,195.87 L210.90,195.57 L214.39,195.27 L217.88,194.97 L221.38,194.67 L224.87,194.38 L228.36,194.10 L231.85,193.82 L235.34,193.56 L238.83,193.31 L242.32,193.07 L245.82,192.86 L249.31,192.66 L252.80,192.49 L256.29,192.34 L259.78,192.22 L263.27,192.12 L266.77,192.05 L270.26,192.01 L273.75,192.00 L277.24,192.02 L280.73,192.06 L284.23,192.13 L287.72,192.24 L291.21,192.36 L294.70,192.51 L298.19,192.69 L301.68,192.89 L305.18,193.11 L308.67,193.34 L312.16,193.59 L315.65,193.86 L319.14,194.14 L322.63,194.42 L326.12,194.71 L329.62,195.01 L333.11,195.31 L336.60,195.61 L340.09,195.91 L343.58,196.20 L347.07,196.49 L350.57,196.77 L354.06,197.05 L357.55,197.31 L361.04,197.57 L364.53,197.81 L368.02,198.04 L371.52,198.26 L375.01,198.47 L378.50,198.66" fill="none" stroke="#333" stroke-width="0.8"/>
<rect x="169.0" y="166.5" width="209.5" height="119.3" fill="none" stroke="#777" stroke-width="1"/>
<path d="M181.5,285.8v-2.5M181.5,166.5v2.5M226.6,285.8v-2.5M226.6,166.5v2.5M271.2,285.8v-2.5M271.2,166.5v2.5M315.8,285.8v-2.5M315.8,166.5v2.5M360.4,285.8v-2.5M360.4,166.5v2.5M169.0,174.3h2.2M378.5,174.3h-2.2M169.0,183.3h2.2M378.5,183.3h-2.2M169.0,192.3h2.2M378.5,192.3h-2.2M169.0,201.2h2.2M378.5,201.2h-2.2M169.0,210.2h2.2M378.5,210.2h-2.2M169.0,219.2h2.2M378.5,219.2h-2.2M169.0,228.2h2.2M378.5,228.2h-2.2M169.0,237.1h2.2M378.5,237.1h-2.2M169.0,246.1h2.2M378.5,246.1h-2.2M169.0,255.1h2.2M378.5,255.1h-2.2M169.0,264.0h2.2M378.5,264.0h-2.2M169.0,273.0h2.2M378.5,273.0h-2.2M169.0,282.0h2.2M378.5,282.0h-2.2" stroke="#555" stroke-width="0.6" fill="none"/>
<text x="164.8" y="184.9" text-anchor="end" style="font-family:'Liberation Serif',serif;font-weight:bold;font-size:9.5px;stroke:#000;stroke-width:0.25px">5.4</text>
<text x="164.8" y="202.8" text-anchor="end" style="font-family:'Liberation Serif',serif;font-weight:bold;font-size:9.5px;stroke:#000;stroke-width:0.25px">5</text>
<text x="164.8" y="220.7" text-anchor="end" style="font-family:'Liberation Serif',serif;font-weight:bold;font-size:9.5px;stroke:#000;stroke-width:0.25px">4.6</text>
<text x="164.8" y="238.7" text-anchor="end" style="font-family:'Liberation Serif',serif;font-weight:bold;font-size:9.5px;stroke:#000;stroke-width:0.25px">4.2</text>
<text x="164.8" y="256.6" text-anchor="end" style="font-family:'Liberation Serif',serif;font-weight:bold;font-size:9.5px;stroke:#000;stroke-width:0.25px">3.8</text>
<text x="164.8" y="274.5" text-anchor="end" style="font-family:'Liberation Serif',serif;font-weight:bold;font-size:9.5px;stroke:#000;stroke-width:0.25px">3.4</text>
<text x="178.1" y="296.0" text-anchor="middle" style="font-family:'Liberation Serif',serif;font-weight:bold;font-size:9.5px;stroke:#000;stroke-width:0.25px">4</text>
<text x="223.8" y="296.0" text-anchor="middle" style="font-family:'Liberation Serif',serif;font-weight:bold;font-size:9.5px;stroke:#000;stroke-width:0.25px">5</text>
<text x="269.9" y="296.0" text-anchor="middle" style="font-family:'Liberation Serif',serif;font-weight:bold;font-size:9.5px;stroke:#000;stroke-width:0.25px">6</text>
<text x="312.3" y="296.0" text-anchor="middle" style="font-family:'Liberation Serif',serif;font-weight:bold;font-size:9.5px;stroke:#000;stroke-width:0.25px">7</text>
<text x="356.1" y="296.0" text-anchor="middle" style="font-family:'Liberation Serif',serif;font-weight:bold;font-size:9.5px;stroke:#000;stroke-width:0.25px">8</text>
<text x="274.2" y="304.8" text-anchor="middle" style="font-family:'Liberation Serif',serif;font-weight:bold;font-size:9.5px;stroke:#000;stroke-width:0.25px">Width(mm)</text>
<text transform="translate(146.4,224.5) rotate(-90)" text-anchor="middle" y="3.2" style="font-family:'Liberation Serif',serif;font-weight:bold;font-size:9.5px;stroke:#000;stroke-width:0.25px">Height(mm)</text>
<text x="139.7" y="173.4" style="font-family:'Liberation Serif',serif;font-weight:bold;font-size:9.5px;stroke:#000;stroke-width:0.25px">(c)</text>
<rect x="383.2" y="176.0" width="10.4" height="109.7" fill="url(#jetg)" stroke="#444" stroke-width="0.8"/>
<text x="396.6" y="183.7" style="font-family:'Liberation Serif',serif;font-weight:bold;font-size:9.5px;stroke:#000;stroke-width:0.25px">0.5</text>
<text x="396.6" y="204.5" style="font-family:'Liberation Serif',serif;font-weight:bold;font-size:9.5px;stroke:#000;stroke-width:0.25px">1</text>
<text x="396.6" y="225.3" style="font-family:'Liberation Serif',serif;font-weight:bold;font-size:9.5px;stroke:#000;stroke-width:0.25px">1.5</text>
<text x="396.6" y="246.2" style="font-family:'Liberation Serif',serif;font-weight:bold;font-size:9.5px;stroke:#000;stroke-width:0.25px">2</text>
<text x="396.6" y="267.0" style="font-family:'Liberation Serif',serif;font-weight:bold;font-size:9.5px;stroke:#000;stroke-width:0.25px">2.5</text>
<text x="396.6" y="287.8" style="font-family:'Liberation Serif',serif;font-weight:bold;font-size:9.5px;stroke:#000;stroke-width:0.25px">3</text>
<path d="M383.2,184.4h2M393.6,184.4h-2M383.2,204.7h2M393.6,204.7h-2M383.2,224.9h2M393.6,224.9h-2M383.2,245.2h2M393.6,245.2h-2M383.2,265.4h2M393.6,265.4h-2M383.2,285.7h2M393.6,285.7h-2" stroke="#333" stroke-width="0.7" fill="none"/>
<text x="382.2" y="172.0" style="font-family:'Liberation Serif',serif;font-weight:bold;font-size:9.5px;stroke:#000;stroke-width:0.25px">×10<tspan dy="-3" style="font-size:6.5px">3</tspan><tspan dy="3"> K</tspan></text>
<circle cx="271.0" cy="191.6" r="0.9" fill="#000"/>
<text x="272.6" y="198.3" style="font-family:'Liberation Sans',sans-serif;font-size:7.3px;letter-spacing:0.62px;fill:#000;stroke:#000;stroke-width:0.05px">max: 2447.46</text>
</svg>
</body></html>
